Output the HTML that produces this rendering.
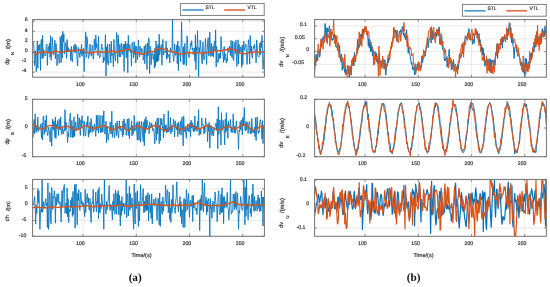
<!DOCTYPE html><html><head><meta charset="utf-8"><style>html,body{margin:0;padding:0;background:#fff;}svg{display:block;}text{text-rendering:geometricPrecision;font-family:"Liberation Sans",Arial,sans-serif;fill:#333;stroke:#333;stroke-width:0.18px;}</style></head><body>
<svg width="550" height="287" viewBox="0 0 550 287">
<rect width="550" height="287" fill="#fff"/>
<clipPath id="c00"><rect x="32.6" y="19.6" width="231.80" height="57.60"/></clipPath>
<line x1="83.07" y1="19.6" x2="83.07" y2="77.2" stroke="#e4e4e4" stroke-width="0.8"/>
<line x1="136.31" y1="19.6" x2="136.31" y2="77.2" stroke="#e4e4e4" stroke-width="0.8"/>
<line x1="189.55" y1="19.6" x2="189.55" y2="77.2" stroke="#e4e4e4" stroke-width="0.8"/>
<line x1="242.79" y1="19.6" x2="242.79" y2="77.2" stroke="#e4e4e4" stroke-width="0.8"/>
<line x1="32.6" y1="72.10" x2="264.4" y2="72.10" stroke="#e4e4e4" stroke-width="0.8"/>
<line x1="32.6" y1="61.91" x2="264.4" y2="61.91" stroke="#e4e4e4" stroke-width="0.8"/>
<line x1="32.6" y1="51.71" x2="264.4" y2="51.71" stroke="#e4e4e4" stroke-width="0.8"/>
<line x1="32.6" y1="41.52" x2="264.4" y2="41.52" stroke="#e4e4e4" stroke-width="0.8"/>
<line x1="32.6" y1="31.32" x2="264.4" y2="31.32" stroke="#e4e4e4" stroke-width="0.8"/>
<line x1="32.6" y1="21.13" x2="264.4" y2="21.13" stroke="#e4e4e4" stroke-width="0.8"/>
<g clip-path="url(#c00)">
<polyline points="33.0,44.0 33.6,42.8 34.1,49.4 34.6,65.5 35.2,60.5 35.7,50.8 36.2,71.6 36.8,62.8 37.3,41.0 37.8,68.3 38.3,45.1 38.9,50.8 39.4,49.3 39.9,44.0 40.5,70.4 41.0,41.3 41.5,39.2 42.1,58.6 42.6,35.4 43.1,58.2 43.7,49.5 44.2,53.7 44.7,55.2 45.3,56.1 45.8,52.4 46.3,45.4 46.9,43.9 47.4,65.4 47.9,49.2 48.5,46.5 49.0,52.3 49.5,43.1 50.1,57.3 50.6,35.6 51.1,60.3 51.7,52.8 52.2,37.6 52.7,44.4 53.3,55.0 53.8,54.6 54.3,47.2 54.9,40.2 55.4,58.7 55.9,43.4 56.5,47.3 57.0,65.7 57.5,54.7 58.0,54.2 58.6,54.1 59.1,63.4 59.6,61.3 60.2,36.7 60.7,49.8 61.2,62.6 61.8,34.9 62.3,58.1 62.8,31.4 63.4,41.7 63.9,34.2 64.4,53.8 65.0,50.7 65.5,42.7 66.0,42.8 66.6,58.4 67.1,39.5 67.6,51.5 68.2,47.4 68.7,51.1 69.2,52.0 69.8,49.4 70.3,49.9 70.8,60.5 71.4,46.4 71.9,59.2 72.4,61.7 73.0,52.6 73.5,46.6 74.0,45.4 74.6,52.3 75.1,43.9 75.6,52.4 76.1,45.4 76.7,53.0 77.2,61.5 77.7,65.8 78.3,47.3 78.8,52.9 79.3,53.0 79.9,57.5 80.4,49.3 80.9,53.7 81.5,44.4 82.0,56.3 82.5,50.1 83.1,54.3 83.6,48.4 84.1,71.6 84.7,54.0 85.2,45.2 85.7,31.9 86.3,57.4 86.8,36.5 87.3,39.3 87.9,49.4 88.4,58.5 88.9,56.5 89.5,54.1 90.0,44.0 90.5,50.9 91.1,55.1 91.6,56.3 92.1,45.1 92.7,46.1 93.2,59.4 93.7,57.0 94.3,39.1 94.8,47.6 95.3,50.3 95.8,34.9 96.4,47.6 96.9,43.7 97.4,55.0 98.0,55.5 98.5,36.2 99.0,53.8 99.6,57.7 100.1,57.3 100.6,55.2 101.2,48.6 101.7,43.9 102.2,49.0 102.8,47.8 103.3,62.7 103.8,57.0 104.4,60.5 104.9,58.4 105.4,34.6 106.0,76.1 106.5,46.8 107.0,63.3 107.6,44.0 108.1,64.9 108.6,64.8 109.2,52.2 109.7,44.0 110.2,52.2 110.8,62.8 111.3,41.3 111.8,55.7 112.4,53.4 112.9,55.3 113.4,66.7 113.9,39.4 114.5,52.8 115.0,57.9 115.5,60.9 116.1,46.8 116.6,32.5 117.1,38.4 117.7,63.4 118.2,34.9 118.7,46.4 119.3,56.9 119.8,44.2 120.3,57.0 120.9,53.3 121.4,43.2 121.9,51.9 122.5,54.8 123.0,46.0 123.5,44.1 124.1,71.4 124.6,43.9 125.1,49.9 125.7,41.3 126.2,57.9 126.7,46.3 127.3,43.5 127.8,72.7 128.3,35.4 128.9,51.2 129.4,46.6 129.9,44.6 130.5,52.5 131.0,50.6 131.5,66.2 132.0,42.7 132.6,42.6 133.1,52.2 133.6,58.0 134.2,41.8 134.7,54.3 135.2,46.1 135.8,63.0 136.3,46.4 136.8,47.0 137.4,59.7 137.9,51.2 138.4,39.9 139.0,53.2 139.5,57.1 140.0,46.1 140.6,49.4 141.1,53.6 141.6,48.5 142.2,48.8 142.7,50.2 143.2,60.2 143.8,57.4 144.3,46.0 144.8,63.7 145.4,45.9 145.9,44.3 146.4,52.6 147.0,69.7 147.5,43.1 148.0,55.7 148.6,37.8 149.1,39.8 149.6,73.5 150.2,46.3 150.7,47.4 151.2,64.7 151.7,53.3 152.3,52.7 152.8,55.6 153.3,59.5 153.9,54.3 154.4,68.2 154.9,48.3 155.5,66.2 156.0,40.9 156.5,62.0 157.1,46.5 157.6,61.5 158.1,44.3 158.7,60.5 159.2,34.2 159.7,55.1 160.3,50.1 160.8,48.1 161.3,44.6 161.9,65.2 162.4,48.5 162.9,39.4 163.5,55.0 164.0,52.6 164.5,51.1 165.1,52.7 165.6,50.5 166.1,41.3 166.7,59.4 167.2,48.0 167.7,57.7 168.3,56.2 168.8,54.3 169.3,54.8 169.8,62.8 170.4,47.8 170.9,50.2 171.4,51.8 172.0,49.3 172.5,19.5 173.0,54.1 173.6,61.4 174.1,57.6 174.6,43.8 175.2,53.0 175.7,55.5 176.2,53.0 176.8,45.0 177.3,63.7 177.8,41.0 178.4,70.5 178.9,46.3 179.4,48.5 180.0,50.8 180.5,61.6 181.0,48.6 181.6,21.8 182.1,47.0 182.6,50.6 183.2,64.5 183.7,46.7 184.2,64.5 184.8,43.4 185.3,54.1 185.8,55.4 186.4,65.7 186.9,35.8 187.4,37.8 187.9,52.8 188.5,55.2 189.0,57.6 189.5,51.1 190.1,49.5 190.6,43.1 191.1,45.8 191.7,40.7 192.2,49.7 192.7,48.0 193.3,54.4 193.8,52.4 194.3,48.0 194.9,61.2 195.4,34.9 195.9,69.8 196.5,46.8 197.0,50.5 197.5,30.8 198.1,52.2 198.6,76.6 199.1,47.7 199.7,52.7 200.2,40.1 200.7,46.2 201.3,52.6 201.8,61.4 202.3,63.8 202.9,42.0 203.4,53.0 203.9,60.1 204.5,59.4 205.0,47.8 205.5,38.4 206.1,52.8 206.6,64.4 207.1,51.9 207.6,43.0 208.2,37.6 208.7,56.1 209.2,54.0 209.8,32.0 210.3,52.5 210.8,56.6 211.4,43.1 211.9,56.1 212.4,55.8 213.0,45.8 213.5,57.1 214.0,45.8 214.6,41.2 215.1,50.8 215.6,29.9 216.2,66.9 216.7,46.4 217.2,58.6 217.8,62.5 218.3,61.6 218.8,53.2 219.4,58.7 219.9,53.5 220.4,58.3 221.0,36.6 221.5,45.7 222.0,50.4 222.6,52.3 223.1,55.9 223.6,62.4 224.2,46.4 224.7,60.1 225.2,54.1 225.7,53.8 226.3,62.8 226.8,58.4 227.3,61.0 227.9,47.7 228.4,50.0 228.9,52.2 229.5,46.3 230.0,49.4 230.5,55.8 231.1,40.4 231.6,54.4 232.1,57.8 232.7,41.0 233.2,60.0 233.7,60.5 234.3,42.5 234.8,43.7 235.3,53.8 235.9,40.2 236.4,56.2 236.9,66.5 237.5,51.0 238.0,39.8 238.5,64.2 239.1,44.4 239.6,52.2 240.1,52.0 240.7,46.8 241.2,48.4 241.7,67.3 242.3,45.0 242.8,64.6 243.3,48.0 243.8,41.2 244.4,50.4 244.9,47.7 245.4,45.9 246.0,44.1 246.5,52.6 247.0,64.4 247.6,55.2 248.1,45.6 248.6,39.7 249.2,50.4 249.7,64.2 250.2,35.4 250.8,52.7 251.3,45.9 251.8,55.1 252.4,58.2 252.9,50.3 253.4,46.3 254.0,48.3 254.5,44.1 255.0,50.0 255.6,52.4 256.1,62.7 256.6,39.9 257.2,44.7 257.7,55.5 258.2,56.3 258.8,57.2 259.3,56.6 259.8,43.2 260.4,54.8 260.9,41.9 261.4,47.5 262.0,35.4 262.5,50.9 263.0,69.3 263.5,62.5 264.1,52.8 264.6,40.5" fill="none" stroke="#0072BD" stroke-width="0.85" stroke-linejoin="round"/>
<polyline points="33.0,52.4 33.6,52.6 34.1,52.7 34.6,52.9 35.2,53.2 35.7,53.7 36.2,54.2 36.8,54.5 37.3,54.3 37.8,53.9 38.3,53.3 38.9,52.8 39.4,52.4 39.9,52.2 40.5,52.1 41.0,52.1 41.5,52.2 42.1,52.2 42.6,52.2 43.1,52.1 43.7,52.1 44.2,52.0 44.7,51.9 45.3,51.9 45.8,51.9 46.3,52.1 46.9,52.2 47.4,52.3 47.9,52.5 48.5,52.6 49.0,52.7 49.5,52.9 50.1,53.0 50.6,53.1 51.1,53.1 51.7,53.0 52.2,52.7 52.7,52.4 53.3,52.0 53.8,51.6 54.3,51.3 54.9,51.2 55.4,51.2 55.9,51.3 56.5,51.3 57.0,51.4 57.5,51.5 58.0,51.7 58.6,51.9 59.1,52.2 59.6,52.4 60.2,52.5 60.7,52.4 61.2,52.3 61.8,52.1 62.3,52.0 62.8,51.9 63.4,51.8 63.9,51.6 64.4,51.4 65.0,51.3 65.5,51.2 66.0,51.1 66.6,51.2 67.1,51.2 67.6,51.3 68.2,51.2 68.7,51.0 69.2,50.8 69.8,50.6 70.3,50.5 70.8,50.4 71.4,50.4 71.9,50.5 72.4,50.6 73.0,50.7 73.5,50.8 74.0,50.7 74.6,50.6 75.1,50.5 75.6,50.3 76.1,50.2 76.7,50.1 77.2,50.0 77.7,49.9 78.3,49.9 78.8,50.0 79.3,50.0 79.9,50.0 80.4,50.0 80.9,49.9 81.5,49.9 82.0,49.8 82.5,49.9 83.1,50.1 83.6,50.5 84.1,51.1 84.7,51.7 85.2,52.1 85.7,52.4 86.3,52.6 86.8,52.6 87.3,52.6 87.9,52.6 88.4,52.6 88.9,52.7 89.5,52.8 90.0,52.9 90.5,53.0 91.1,53.1 91.6,53.1 92.1,53.0 92.7,52.8 93.2,52.6 93.7,52.4 94.3,52.3 94.8,52.1 95.3,52.0 95.8,51.9 96.4,51.8 96.9,51.9 97.4,52.0 98.0,52.2 98.5,52.3 99.0,52.3 99.6,52.2 100.1,52.1 100.6,52.0 101.2,52.0 101.7,52.0 102.2,52.1 102.8,52.2 103.3,52.3 103.8,52.3 104.4,52.2 104.9,52.0 105.4,51.8 106.0,51.6 106.5,51.6 107.0,51.6 107.6,51.7 108.1,51.8 108.6,51.8 109.2,51.6 109.7,51.4 110.2,51.2 110.8,51.0 111.3,50.9 111.8,50.9 112.4,51.0 112.9,51.0 113.4,51.2 113.9,51.4 114.5,51.7 115.0,52.0 115.5,52.3 116.1,52.3 116.6,52.2 117.1,51.9 117.7,51.6 118.2,51.4 118.7,51.3 119.3,51.2 119.8,51.1 120.3,51.0 120.9,50.9 121.4,50.7 121.9,50.7 122.5,50.7 123.0,50.7 123.5,50.7 124.1,50.6 124.6,50.3 125.1,50.0 125.7,49.7 126.2,49.5 126.7,49.4 127.3,49.3 127.8,49.3 128.3,49.4 128.9,49.6 129.4,49.6 129.9,49.7 130.5,49.8 131.0,50.1 131.5,50.5 132.0,51.0 132.6,51.6 133.1,52.1 133.6,52.4 134.2,52.6 134.7,52.6 135.2,52.6 135.8,52.6 136.3,52.7 136.8,52.7 137.4,52.8 137.9,52.9 138.4,53.0 139.0,53.3 139.5,53.6 140.0,53.9 140.6,54.3 141.1,54.4 141.6,54.3 142.2,54.1 142.7,54.0 143.2,53.8 143.8,53.6 144.3,53.5 144.8,53.2 145.4,53.0 145.9,52.8 146.4,52.7 147.0,52.6 147.5,52.6 148.0,52.5 148.6,52.5 149.1,52.3 149.6,52.1 150.2,51.8 150.7,51.6 151.2,51.5 151.7,51.5 152.3,51.6 152.8,51.7 153.3,51.7 153.9,51.5 154.4,51.2 154.9,50.8 155.5,50.3 156.0,49.8 156.5,49.4 157.1,49.1 157.6,48.9 158.1,48.8 158.7,48.8 159.2,48.7 159.7,48.6 160.3,48.4 160.8,48.3 161.3,48.3 161.9,48.4 162.4,48.6 162.9,48.8 163.5,48.9 164.0,49.1 164.5,49.2 165.1,49.4 165.6,49.6 166.1,49.7 166.7,49.9 167.2,50.2 167.7,50.6 168.3,50.9 168.8,51.2 169.3,51.3 169.8,51.4 170.4,51.5 170.9,51.7 171.4,51.9 172.0,52.0 172.5,52.2 173.0,52.2 173.6,52.2 174.1,52.1 174.6,52.0 175.2,52.0 175.7,52.2 176.2,52.6 176.8,53.1 177.3,53.5 177.8,53.7 178.4,53.8 178.9,53.9 179.4,54.0 180.0,54.0 180.5,54.0 181.0,54.1 181.6,54.1 182.1,54.0 182.6,53.9 183.2,53.8 183.7,53.6 184.2,53.4 184.8,53.3 185.3,53.1 185.8,53.0 186.4,52.9 186.9,52.8 187.4,52.8 187.9,52.8 188.5,52.8 189.0,52.8 189.5,52.8 190.1,52.8 190.6,52.8 191.1,52.9 191.7,53.0 192.2,53.1 192.7,53.0 193.3,52.9 193.8,52.8 194.3,52.8 194.9,52.8 195.4,52.9 195.9,53.0 196.5,53.0 197.0,52.9 197.5,52.8 198.1,52.7 198.6,52.7 199.1,52.7 199.7,52.8 200.2,53.0 200.7,53.2 201.3,53.4 201.8,53.6 202.3,53.7 202.9,53.6 203.4,53.3 203.9,53.0 204.5,52.8 205.0,52.6 205.5,52.5 206.1,52.6 206.6,52.6 207.1,52.7 207.6,52.6 208.2,52.4 208.7,52.2 209.2,52.1 209.8,52.1 210.3,52.1 210.8,52.3 211.4,52.4 211.9,52.3 212.4,52.1 213.0,51.6 213.5,51.1 214.0,50.7 214.6,50.5 215.1,50.6 215.6,50.8 216.2,51.0 216.7,51.2 217.2,51.2 217.8,51.0 218.3,50.8 218.8,50.8 219.4,50.8 219.9,50.8 220.4,50.9 221.0,50.9 221.5,50.8 222.0,50.6 222.6,50.4 223.1,50.2 223.6,50.0 224.2,49.8 224.7,49.8 225.2,49.7 225.7,49.7 226.3,49.7 226.8,49.7 227.3,49.6 227.9,49.5 228.4,49.3 228.9,49.1 229.5,48.9 230.0,48.8 230.5,48.9 231.1,49.0 231.6,49.1 232.1,49.3 232.7,49.4 233.2,49.5 233.7,49.7 234.3,49.8 234.8,50.0 235.3,50.2 235.9,50.5 236.4,50.8 236.9,51.2 237.5,51.7 238.0,52.1 238.5,52.5 239.1,52.9 239.6,53.0 240.1,53.1 240.7,53.1 241.2,53.0 241.7,53.0 242.3,53.1 242.8,53.2 243.3,53.4 243.8,53.5 244.4,53.7 244.9,53.8 245.4,53.7 246.0,53.6 246.5,53.5 247.0,53.3 247.6,53.1 248.1,52.9 248.6,52.6 249.2,52.5 249.7,52.5 250.2,52.5 250.8,52.6 251.3,52.7 251.8,52.7 252.4,52.7 252.9,52.5 253.4,52.3 254.0,52.1 254.5,51.8 255.0,51.5 255.6,51.4 256.1,51.4 256.6,51.5 257.2,51.7 257.7,51.9 258.2,52.1 258.8,52.2 259.3,52.2 259.8,52.2 260.4,52.1 260.9,52.0 261.4,52.0 262.0,52.0 262.5,52.1 263.0,52.3 263.5,52.4 264.1,52.4 264.6,52.4" fill="none" stroke="#D95319" stroke-width="1.4" stroke-linejoin="round"/>
</g>
<rect x="32.6" y="19.6" width="231.80" height="57.60" fill="none" stroke="#727272" stroke-width="1"/>
<line x1="83.07" y1="77.2" x2="83.07" y2="74.9" stroke="#727272" stroke-width="0.8"/>
<line x1="83.07" y1="19.6" x2="83.07" y2="21.900000000000002" stroke="#727272" stroke-width="0.8"/>
<text x="80.37" y="85.80" font-size="5.2" text-anchor="middle">100</text>
<line x1="136.31" y1="77.2" x2="136.31" y2="74.9" stroke="#727272" stroke-width="0.8"/>
<line x1="136.31" y1="19.6" x2="136.31" y2="21.900000000000002" stroke="#727272" stroke-width="0.8"/>
<text x="133.61" y="85.80" font-size="5.2" text-anchor="middle">150</text>
<line x1="189.55" y1="77.2" x2="189.55" y2="74.9" stroke="#727272" stroke-width="0.8"/>
<line x1="189.55" y1="19.6" x2="189.55" y2="21.900000000000002" stroke="#727272" stroke-width="0.8"/>
<text x="186.85" y="85.80" font-size="5.2" text-anchor="middle">200</text>
<line x1="242.79" y1="77.2" x2="242.79" y2="74.9" stroke="#727272" stroke-width="0.8"/>
<line x1="242.79" y1="19.6" x2="242.79" y2="21.900000000000002" stroke="#727272" stroke-width="0.8"/>
<text x="240.09" y="85.80" font-size="5.2" text-anchor="middle">250</text>
<line x1="32.6" y1="72.10" x2="34.9" y2="72.10" stroke="#727272" stroke-width="0.8"/>
<line x1="264.4" y1="72.10" x2="262.09999999999997" y2="72.10" stroke="#727272" stroke-width="0.8"/>
<text x="26.30" y="72.40" font-size="5.2" text-anchor="end">-4</text>
<line x1="32.6" y1="61.91" x2="34.9" y2="61.91" stroke="#727272" stroke-width="0.8"/>
<line x1="264.4" y1="61.91" x2="262.09999999999997" y2="61.91" stroke="#727272" stroke-width="0.8"/>
<text x="26.30" y="62.21" font-size="5.2" text-anchor="end">-2</text>
<line x1="32.6" y1="51.71" x2="34.9" y2="51.71" stroke="#727272" stroke-width="0.8"/>
<line x1="264.4" y1="51.71" x2="262.09999999999997" y2="51.71" stroke="#727272" stroke-width="0.8"/>
<text x="27.60" y="52.01" font-size="5.2" text-anchor="end">0</text>
<line x1="32.6" y1="41.52" x2="34.9" y2="41.52" stroke="#727272" stroke-width="0.8"/>
<line x1="264.4" y1="41.52" x2="262.09999999999997" y2="41.52" stroke="#727272" stroke-width="0.8"/>
<text x="27.60" y="41.82" font-size="5.2" text-anchor="end">2</text>
<line x1="32.6" y1="31.32" x2="34.9" y2="31.32" stroke="#727272" stroke-width="0.8"/>
<line x1="264.4" y1="31.32" x2="262.09999999999997" y2="31.32" stroke="#727272" stroke-width="0.8"/>
<text x="27.60" y="31.62" font-size="5.2" text-anchor="end">4</text>
<line x1="32.6" y1="21.13" x2="34.9" y2="21.13" stroke="#727272" stroke-width="0.8"/>
<line x1="264.4" y1="21.13" x2="262.09999999999997" y2="21.13" stroke="#727272" stroke-width="0.8"/>
<text x="27.60" y="21.43" font-size="5.2" text-anchor="end">6</text>
<text transform="translate(8.90,51.80) rotate(-90)" font-size="5.8" text-anchor="middle">dp<tspan dx="3.3" dy="5.3" font-size="4.3">N</tspan><tspan dx="2.5" dy="-4.5">/(m)</tspan></text>
<clipPath id="c01"><rect x="32.6" y="99.3" width="231.80" height="57.40"/></clipPath>
<line x1="83.07" y1="99.3" x2="83.07" y2="156.7" stroke="#e4e4e4" stroke-width="0.8"/>
<line x1="136.31" y1="99.3" x2="136.31" y2="156.7" stroke="#e4e4e4" stroke-width="0.8"/>
<line x1="189.55" y1="99.3" x2="189.55" y2="156.7" stroke="#e4e4e4" stroke-width="0.8"/>
<line x1="242.79" y1="99.3" x2="242.79" y2="156.7" stroke="#e4e4e4" stroke-width="0.8"/>
<line x1="32.6" y1="156.70" x2="264.4" y2="156.70" stroke="#e4e4e4" stroke-width="0.8"/>
<line x1="32.6" y1="128.00" x2="264.4" y2="128.00" stroke="#e4e4e4" stroke-width="0.8"/>
<line x1="32.6" y1="99.30" x2="264.4" y2="99.30" stroke="#e4e4e4" stroke-width="0.8"/>
<g clip-path="url(#c01)">
<polyline points="33.0,137.5 33.6,131.0 34.1,119.5 34.6,133.5 35.2,113.8 35.7,128.9 36.2,132.5 36.8,125.3 37.3,130.3 37.8,117.1 38.3,131.6 38.9,130.2 39.4,128.4 39.9,127.6 40.5,124.3 41.0,129.4 41.5,138.3 42.1,123.1 42.6,139.9 43.1,117.3 43.7,116.0 44.2,134.4 44.7,129.7 45.3,120.2 45.8,131.7 46.3,115.3 46.9,129.9 47.4,135.5 47.9,135.6 48.5,127.4 49.0,130.3 49.5,131.0 50.1,142.0 50.6,131.2 51.1,127.1 51.7,146.0 52.2,129.8 52.7,119.2 53.3,130.0 53.8,121.2 54.3,121.1 54.9,137.5 55.4,117.0 55.9,138.5 56.5,124.5 57.0,128.1 57.5,120.7 58.0,126.9 58.6,135.5 59.1,119.1 59.6,128.7 60.2,130.0 60.7,116.8 61.2,132.2 61.8,134.5 62.3,126.8 62.8,132.2 63.4,134.0 63.9,129.6 64.4,131.2 65.0,109.7 65.5,130.3 66.0,122.0 66.6,125.5 67.1,133.7 67.6,142.5 68.2,132.5 68.7,136.9 69.2,121.3 69.8,118.5 70.3,113.3 70.8,137.4 71.4,129.0 71.9,120.4 72.4,137.9 73.0,126.1 73.5,136.7 74.0,116.9 74.6,136.5 75.1,128.1 75.6,121.9 76.1,127.7 76.7,130.7 77.2,126.5 77.7,114.2 78.3,129.1 78.8,124.8 79.3,117.8 79.9,130.7 80.4,135.5 80.9,119.7 81.5,127.6 82.0,115.7 82.5,122.3 83.1,124.5 83.6,136.2 84.1,120.9 84.7,127.2 85.2,135.3 85.7,136.1 86.3,128.2 86.8,122.2 87.3,125.9 87.9,116.0 88.4,137.2 88.9,129.8 89.5,133.4 90.0,122.1 90.5,132.1 91.1,118.5 91.6,122.0 92.1,132.5 92.7,125.9 93.2,129.6 93.7,130.8 94.3,123.8 94.8,126.1 95.3,131.6 95.8,136.3 96.4,115.4 96.9,130.7 97.4,121.9 98.0,115.0 98.5,133.1 99.0,128.7 99.6,122.1 100.1,115.4 100.6,132.8 101.2,128.2 101.7,132.1 102.2,115.5 102.8,132.2 103.3,123.3 103.8,110.8 104.4,131.6 104.9,134.1 105.4,131.1 106.0,121.2 106.5,142.7 107.0,126.0 107.6,132.7 108.1,140.3 108.6,136.9 109.2,132.5 109.7,128.5 110.2,121.9 110.8,133.6 111.3,134.1 111.8,111.2 112.4,137.4 112.9,130.3 113.4,125.2 113.9,131.5 114.5,137.8 115.0,133.8 115.5,123.6 116.1,123.6 116.6,135.5 117.1,121.0 117.7,129.8 118.2,135.3 118.7,137.6 119.3,120.8 119.8,128.9 120.3,126.1 120.9,131.0 121.4,129.9 121.9,128.6 122.5,136.8 123.0,121.0 123.5,134.8 124.1,118.8 124.6,129.2 125.1,123.5 125.7,123.9 126.2,135.4 126.7,130.3 127.3,119.0 127.8,125.4 128.3,135.6 128.9,118.4 129.4,138.7 129.9,128.8 130.5,127.7 131.0,129.6 131.5,120.9 132.0,136.0 132.6,125.7 133.1,134.1 133.6,131.3 134.2,115.4 134.7,131.1 135.2,128.6 135.8,129.6 136.3,122.6 136.8,132.7 137.4,140.2 137.9,121.5 138.4,127.2 139.0,140.4 139.5,121.6 140.0,128.0 140.6,142.2 141.1,130.5 141.6,121.3 142.2,127.2 142.7,136.5 143.2,141.4 143.8,121.9 144.3,145.8 144.8,119.3 145.4,132.8 145.9,116.8 146.4,128.9 147.0,120.2 147.5,124.4 148.0,126.7 148.6,126.1 149.1,133.9 149.6,121.8 150.2,124.4 150.7,127.7 151.2,127.6 151.7,122.9 152.3,126.8 152.8,130.8 153.3,128.6 153.9,130.7 154.4,137.4 154.9,143.9 155.5,121.7 156.0,126.9 156.5,140.2 157.1,118.3 157.6,133.8 158.1,122.8 158.7,117.8 159.2,143.7 159.7,125.4 160.3,140.6 160.8,118.3 161.3,124.9 161.9,119.1 162.4,128.1 162.9,126.9 163.5,138.0 164.0,114.0 164.5,132.0 165.1,125.3 165.6,129.9 166.1,124.8 166.7,133.0 167.2,128.3 167.7,131.9 168.3,110.8 168.8,132.1 169.3,127.6 169.8,130.1 170.4,117.4 170.9,134.0 171.4,125.7 172.0,131.9 172.5,127.4 173.0,125.0 173.6,119.2 174.1,125.0 174.6,137.0 175.2,120.8 175.7,127.5 176.2,126.6 176.8,129.9 177.3,123.0 177.8,136.7 178.4,122.1 178.9,126.8 179.4,134.0 180.0,126.1 180.5,120.9 181.0,135.2 181.6,121.5 182.1,117.0 182.6,129.7 183.2,146.0 183.7,116.2 184.2,129.6 184.8,131.8 185.3,126.5 185.8,134.4 186.4,138.2 186.9,128.1 187.4,131.0 187.9,123.9 188.5,129.0 189.0,132.1 189.5,127.7 190.1,122.7 190.6,136.7 191.1,120.1 191.7,127.8 192.2,122.4 192.7,127.2 193.3,131.5 193.8,124.8 194.3,131.5 194.9,116.0 195.4,128.8 195.9,130.2 196.5,126.0 197.0,131.4 197.5,121.1 198.1,127.5 198.6,109.7 199.1,135.4 199.7,127.9 200.2,128.8 200.7,134.4 201.3,126.3 201.8,117.8 202.3,125.3 202.9,125.3 203.4,124.9 203.9,134.1 204.5,126.4 205.0,132.4 205.5,117.9 206.1,124.0 206.6,123.8 207.1,125.3 207.6,141.6 208.2,124.1 208.7,131.3 209.2,122.4 209.8,148.2 210.3,134.2 210.8,125.2 211.4,127.1 211.9,135.6 212.4,133.7 213.0,128.2 213.5,136.1 214.0,129.5 214.6,130.0 215.1,126.1 215.6,124.0 216.2,123.0 216.7,130.5 217.2,118.9 217.8,148.7 218.3,106.7 218.8,134.6 219.4,125.9 219.9,119.8 220.4,125.8 221.0,145.1 221.5,112.7 222.0,130.6 222.6,127.7 223.1,120.3 223.6,127.0 224.2,131.0 224.7,144.8 225.2,119.3 225.7,132.5 226.3,112.6 226.8,130.7 227.3,124.2 227.9,138.3 228.4,120.9 228.9,126.3 229.5,127.1 230.0,124.9 230.5,119.5 231.1,132.0 231.6,126.8 232.1,132.9 232.7,130.9 233.2,113.9 233.7,129.7 234.3,132.9 234.8,126.0 235.3,133.4 235.9,126.8 236.4,120.9 236.9,130.0 237.5,131.1 238.0,135.4 238.5,149.3 239.1,130.2 239.6,131.7 240.1,121.8 240.7,130.1 241.2,120.1 241.7,122.2 242.3,134.8 242.8,117.5 243.3,125.9 243.8,119.0 244.4,107.5 244.9,129.4 245.4,131.1 246.0,121.3 246.5,129.9 247.0,122.9 247.6,122.4 248.1,133.4 248.6,125.7 249.2,122.2 249.7,121.6 250.2,133.6 250.8,128.5 251.3,133.8 251.8,118.5 252.4,129.2 252.9,132.5 253.4,130.6 254.0,133.1 254.5,127.1 255.0,136.8 255.6,117.6 256.1,140.6 256.6,124.8 257.2,117.0 257.7,128.7 258.2,133.4 258.8,131.2 259.3,132.0 259.8,121.6 260.4,119.7 260.9,122.4 261.4,127.4 262.0,139.1 262.5,120.5 263.0,143.7 263.5,125.5 264.1,126.5 264.6,130.6" fill="none" stroke="#0072BD" stroke-width="0.85" stroke-linejoin="round"/>
<polyline points="33.0,124.2 33.6,124.4 34.1,124.5 34.6,124.8 35.2,125.1 35.7,125.5 36.2,125.9 36.8,126.4 37.3,126.8 37.8,127.2 38.3,127.6 38.9,128.0 39.4,128.4 39.9,128.7 40.5,128.9 41.0,129.1 41.5,129.2 42.1,129.2 42.6,129.1 43.1,129.0 43.7,128.8 44.2,128.6 44.7,128.3 45.3,128.0 45.8,127.6 46.3,127.2 46.9,126.9 47.4,126.5 47.9,126.1 48.5,125.9 49.0,125.7 49.5,125.5 50.1,125.4 50.6,125.4 51.1,125.4 51.7,125.6 52.2,125.8 52.7,125.9 53.3,126.1 53.8,126.4 54.3,126.7 54.9,127.0 55.4,127.3 55.9,127.6 56.5,127.9 57.0,128.0 57.5,128.1 58.0,128.2 58.6,128.2 59.1,128.1 59.6,128.1 60.2,127.9 60.7,127.8 61.2,127.6 61.8,127.4 62.3,127.1 62.8,126.9 63.4,126.6 63.9,126.4 64.4,126.3 65.0,126.2 65.5,126.1 66.0,126.1 66.6,126.1 67.1,126.1 67.6,126.2 68.2,126.4 68.7,126.6 69.2,126.9 69.8,127.1 70.3,127.4 70.8,127.7 71.4,128.0 71.9,128.3 72.4,128.6 73.0,128.9 73.5,129.1 74.0,129.3 74.6,129.5 75.1,129.6 75.6,129.8 76.1,129.8 76.7,129.8 77.2,129.7 77.7,129.6 78.3,129.4 78.8,129.2 79.3,128.9 79.9,128.6 80.4,128.3 80.9,127.9 81.5,127.6 82.0,127.2 82.5,126.9 83.1,126.6 83.6,126.3 84.1,126.2 84.7,126.0 85.2,125.9 85.7,125.9 86.3,125.9 86.8,126.0 87.3,126.3 87.9,126.5 88.4,126.8 88.9,127.0 89.5,127.2 90.0,127.5 90.5,127.7 91.1,127.9 91.6,128.0 92.1,128.2 92.7,128.2 93.2,128.2 93.7,128.2 94.3,128.1 94.8,128.1 95.3,128.0 95.8,127.9 96.4,127.8 96.9,127.6 97.4,127.5 98.0,127.4 98.5,127.2 99.0,127.1 99.6,126.9 100.1,126.8 100.6,126.6 101.2,126.5 101.7,126.3 102.2,126.2 102.8,126.1 103.3,126.0 103.8,126.0 104.4,125.9 104.9,125.9 105.4,126.0 106.0,126.2 106.5,126.5 107.0,126.7 107.6,127.0 108.1,127.3 108.6,127.6 109.2,128.0 109.7,128.4 110.2,128.7 110.8,129.0 111.3,129.3 111.8,129.5 112.4,129.6 112.9,129.7 113.4,129.7 113.9,129.6 114.5,129.4 115.0,129.2 115.5,128.9 116.1,128.6 116.6,128.3 117.1,128.0 117.7,127.7 118.2,127.4 118.7,127.0 119.3,126.8 119.8,126.6 120.3,126.6 120.9,126.6 121.4,126.6 121.9,126.8 122.5,127.0 123.0,127.3 123.5,127.6 124.1,127.9 124.6,128.3 125.1,128.7 125.7,129.0 126.2,129.4 126.7,129.6 127.3,129.9 127.8,130.1 128.3,130.1 128.9,130.0 129.4,129.8 129.9,129.6 130.5,129.3 131.0,129.0 131.5,128.7 132.0,128.3 132.6,127.9 133.1,127.5 133.6,127.1 134.2,126.7 134.7,126.5 135.2,126.2 135.8,126.1 136.3,126.0 136.8,125.9 137.4,126.0 137.9,126.1 138.4,126.2 139.0,126.3 139.5,126.5 140.0,126.8 140.6,127.0 141.1,127.3 141.6,127.6 142.2,127.9 142.7,128.1 143.2,128.4 143.8,128.5 144.3,128.7 144.8,128.8 145.4,129.0 145.9,129.1 146.4,129.0 147.0,129.0 147.5,128.9 148.0,128.7 148.6,128.5 149.1,128.3 149.6,128.0 150.2,127.7 150.7,127.4 151.2,127.1 151.7,126.8 152.3,126.4 152.8,126.2 153.3,125.9 153.9,125.7 154.4,125.6 154.9,125.5 155.5,125.5 156.0,125.5 156.5,125.7 157.1,125.9 157.6,126.2 158.1,126.5 158.7,126.8 159.2,127.2 159.7,127.7 160.3,128.2 160.8,128.7 161.3,129.1 161.9,129.5 162.4,129.8 162.9,130.1 163.5,130.3 164.0,130.4 164.5,130.5 165.1,130.5 165.6,130.4 166.1,130.2 166.7,130.0 167.2,129.6 167.7,129.2 168.3,128.8 168.8,128.4 169.3,127.9 169.8,127.4 170.4,127.1 170.9,126.7 171.4,126.4 172.0,126.2 172.5,126.0 173.0,125.9 173.6,125.9 174.1,126.0 174.6,126.2 175.2,126.5 175.7,126.8 176.2,127.1 176.8,127.5 177.3,127.8 177.8,128.2 178.4,128.5 178.9,128.8 179.4,129.1 180.0,129.2 180.5,129.3 181.0,129.4 181.6,129.4 182.1,129.3 182.6,129.1 183.2,128.9 183.7,128.6 184.2,128.4 184.8,128.1 185.3,127.7 185.8,127.2 186.4,126.8 186.9,126.5 187.4,126.2 187.9,125.9 188.5,125.7 189.0,125.5 189.5,125.4 190.1,125.3 190.6,125.3 191.1,125.4 191.7,125.5 192.2,125.9 192.7,126.1 193.3,126.5 193.8,126.8 194.3,127.1 194.9,127.4 195.4,127.8 195.9,128.1 196.5,128.4 197.0,128.6 197.5,128.7 198.1,128.8 198.6,128.9 199.1,128.9 199.7,128.8 200.2,128.6 200.7,128.4 201.3,128.2 201.8,127.9 202.3,127.7 202.9,127.4 203.4,127.1 203.9,126.8 204.5,126.5 205.0,126.4 205.5,126.1 206.1,126.0 206.6,125.9 207.1,125.9 207.6,125.9 208.2,125.9 208.7,125.9 209.2,126.0 209.8,126.2 210.3,126.4 210.8,126.6 211.4,126.8 211.9,127.1 212.4,127.4 213.0,127.7 213.5,128.0 214.0,128.3 214.6,128.6 215.1,128.9 215.6,129.1 216.2,129.4 216.7,129.6 217.2,129.8 217.8,130.0 218.3,130.0 218.8,130.0 219.4,129.9 219.9,129.8 220.4,129.6 221.0,129.4 221.5,129.0 222.0,128.7 222.6,128.4 223.1,128.0 223.6,127.7 224.2,127.3 224.7,127.1 225.2,126.8 225.7,126.5 226.3,126.3 226.8,126.3 227.3,126.2 227.9,126.3 228.4,126.5 228.9,126.6 229.5,126.8 230.0,127.0 230.5,127.2 231.1,127.5 231.6,127.8 232.1,128.1 232.7,128.3 233.2,128.4 233.7,128.5 234.3,128.7 234.8,128.7 235.3,128.6 235.9,128.5 236.4,128.3 236.9,128.2 237.5,127.9 238.0,127.6 238.5,127.2 239.1,126.9 239.6,126.5 240.1,126.2 240.7,125.8 241.2,125.5 241.7,125.2 242.3,124.9 242.8,124.8 243.3,124.7 243.8,124.7 244.4,124.7 244.9,124.9 245.4,125.0 246.0,125.2 246.5,125.5 247.0,125.9 247.6,126.3 248.1,126.8 248.6,127.2 249.2,127.7 249.7,128.1 250.2,128.5 250.8,128.9 251.3,129.3 251.8,129.6 252.4,129.9 252.9,130.0 253.4,130.0 254.0,130.0 254.5,129.8 255.0,129.7 255.6,129.5 256.1,129.2 256.6,128.9 257.2,128.5 257.7,128.1 258.2,127.7 258.8,127.4 259.3,127.1 259.8,126.9 260.4,126.7 260.9,126.5 261.4,126.4 262.0,126.3 262.5,126.3 263.0,126.3 263.5,126.4 264.1,126.4 264.6,126.5" fill="none" stroke="#D95319" stroke-width="1.4" stroke-linejoin="round"/>
</g>
<rect x="32.6" y="99.3" width="231.80" height="57.40" fill="none" stroke="#727272" stroke-width="1"/>
<line x1="83.07" y1="156.7" x2="83.07" y2="154.39999999999998" stroke="#727272" stroke-width="0.8"/>
<line x1="83.07" y1="99.3" x2="83.07" y2="101.6" stroke="#727272" stroke-width="0.8"/>
<text x="80.37" y="165.30" font-size="5.2" text-anchor="middle">100</text>
<line x1="136.31" y1="156.7" x2="136.31" y2="154.39999999999998" stroke="#727272" stroke-width="0.8"/>
<line x1="136.31" y1="99.3" x2="136.31" y2="101.6" stroke="#727272" stroke-width="0.8"/>
<text x="133.61" y="165.30" font-size="5.2" text-anchor="middle">150</text>
<line x1="189.55" y1="156.7" x2="189.55" y2="154.39999999999998" stroke="#727272" stroke-width="0.8"/>
<line x1="189.55" y1="99.3" x2="189.55" y2="101.6" stroke="#727272" stroke-width="0.8"/>
<text x="186.85" y="165.30" font-size="5.2" text-anchor="middle">200</text>
<line x1="242.79" y1="156.7" x2="242.79" y2="154.39999999999998" stroke="#727272" stroke-width="0.8"/>
<line x1="242.79" y1="99.3" x2="242.79" y2="101.6" stroke="#727272" stroke-width="0.8"/>
<text x="240.09" y="165.30" font-size="5.2" text-anchor="middle">250</text>
<line x1="32.6" y1="156.70" x2="34.9" y2="156.70" stroke="#727272" stroke-width="0.8"/>
<line x1="264.4" y1="156.70" x2="262.09999999999997" y2="156.70" stroke="#727272" stroke-width="0.8"/>
<text x="26.30" y="157.00" font-size="5.2" text-anchor="end">-5</text>
<line x1="32.6" y1="128.00" x2="34.9" y2="128.00" stroke="#727272" stroke-width="0.8"/>
<line x1="264.4" y1="128.00" x2="262.09999999999997" y2="128.00" stroke="#727272" stroke-width="0.8"/>
<text x="27.60" y="128.30" font-size="5.2" text-anchor="end">0</text>
<line x1="32.6" y1="99.30" x2="34.9" y2="99.30" stroke="#727272" stroke-width="0.8"/>
<line x1="264.4" y1="99.30" x2="262.09999999999997" y2="99.30" stroke="#727272" stroke-width="0.8"/>
<text x="27.60" y="99.60" font-size="5.2" text-anchor="end">5</text>
<text transform="translate(8.90,131.90) rotate(-90)" font-size="5.8" text-anchor="middle">dp<tspan dx="3.3" dy="5.3" font-size="4.3">E</tspan><tspan dx="2.5" dy="-4.5">/(m)</tspan></text>
<clipPath id="c02"><rect x="32.6" y="179.4" width="231.80" height="56.90"/></clipPath>
<line x1="83.07" y1="179.4" x2="83.07" y2="236.3" stroke="#e4e4e4" stroke-width="0.8"/>
<line x1="136.31" y1="179.4" x2="136.31" y2="236.3" stroke="#e4e4e4" stroke-width="0.8"/>
<line x1="189.55" y1="179.4" x2="189.55" y2="236.3" stroke="#e4e4e4" stroke-width="0.8"/>
<line x1="242.79" y1="179.4" x2="242.79" y2="236.3" stroke="#e4e4e4" stroke-width="0.8"/>
<line x1="32.6" y1="236.30" x2="264.4" y2="236.30" stroke="#e4e4e4" stroke-width="0.8"/>
<line x1="32.6" y1="220.49" x2="264.4" y2="220.49" stroke="#e4e4e4" stroke-width="0.8"/>
<line x1="32.6" y1="204.69" x2="264.4" y2="204.69" stroke="#e4e4e4" stroke-width="0.8"/>
<line x1="32.6" y1="188.88" x2="264.4" y2="188.88" stroke="#e4e4e4" stroke-width="0.8"/>
<g clip-path="url(#c02)">
<polyline points="33.0,205.0 33.6,204.1 34.1,200.5 34.6,196.4 35.2,209.1 35.7,224.1 36.2,205.2 36.8,213.6 37.3,201.2 37.8,188.6 38.3,203.2 38.9,190.7 39.4,207.9 39.9,229.3 40.5,212.4 41.0,208.8 41.5,212.2 42.1,177.3 42.6,212.3 43.1,206.5 43.7,201.6 44.2,207.9 44.7,207.6 45.3,202.5 45.8,198.6 46.3,205.0 46.9,203.4 47.4,227.5 47.9,183.0 48.5,229.4 49.0,222.3 49.5,192.5 50.1,193.5 50.6,219.0 51.1,224.0 51.7,187.5 52.2,196.3 52.7,209.6 53.3,196.5 53.8,197.9 54.3,190.7 54.9,195.6 55.4,223.2 55.9,197.1 56.5,205.3 57.0,193.8 57.5,196.7 58.0,202.6 58.6,193.9 59.1,204.2 59.6,202.2 60.2,201.7 60.7,210.0 61.2,222.1 61.8,190.8 62.3,190.3 62.8,206.6 63.4,190.2 63.9,186.3 64.4,184.5 65.0,213.3 65.5,210.2 66.0,202.9 66.6,213.7 67.1,187.9 67.6,216.9 68.2,198.8 68.7,222.6 69.2,209.0 69.8,211.6 70.3,211.5 70.8,199.9 71.4,207.4 71.9,197.4 72.4,216.5 73.0,191.4 73.5,214.5 74.0,205.2 74.6,184.6 75.1,228.2 75.6,187.2 76.1,184.0 76.7,204.8 77.2,224.8 77.7,193.1 78.3,200.8 78.8,189.7 79.3,205.4 79.9,210.5 80.4,197.2 80.9,192.1 81.5,204.1 82.0,201.2 82.5,205.8 83.1,202.9 83.6,206.6 84.1,211.0 84.7,216.7 85.2,189.4 85.7,212.6 86.3,199.0 86.8,196.5 87.3,193.5 87.9,203.2 88.4,197.7 88.9,208.8 89.5,210.3 90.0,198.4 90.5,212.1 91.1,222.5 91.6,205.0 92.1,202.1 92.7,203.4 93.2,189.4 93.7,212.2 94.3,206.1 94.8,207.5 95.3,202.1 95.8,192.1 96.4,212.1 96.9,201.7 97.4,203.2 98.0,190.1 98.5,218.6 99.0,187.5 99.6,212.4 100.1,213.2 100.6,203.7 101.2,208.7 101.7,194.0 102.2,201.0 102.8,205.8 103.3,205.5 103.8,229.3 104.4,180.0 104.9,206.5 105.4,208.6 106.0,213.9 106.5,201.5 107.0,209.9 107.6,207.1 108.1,200.2 108.6,197.0 109.2,185.2 109.7,208.1 110.2,210.5 110.8,204.4 111.3,205.7 111.8,210.2 112.4,219.7 112.9,200.9 113.4,210.8 113.9,193.7 114.5,205.2 115.0,214.4 115.5,189.9 116.1,201.3 116.6,213.8 117.1,193.0 117.7,205.2 118.2,190.5 118.7,215.0 119.3,195.0 119.8,208.9 120.3,226.0 120.9,200.8 121.4,215.3 121.9,196.6 122.5,210.8 123.0,203.0 123.5,207.0 124.1,203.3 124.6,214.1 125.1,204.2 125.7,204.2 126.2,180.0 126.7,217.7 127.3,194.2 127.8,193.5 128.3,215.9 128.9,204.7 129.4,186.3 129.9,210.3 130.5,193.6 131.0,208.0 131.5,204.2 132.0,198.0 132.6,208.2 133.1,216.4 133.6,229.1 134.2,184.0 134.7,215.9 135.2,224.0 135.8,192.6 136.3,208.6 136.8,206.6 137.4,190.7 137.9,209.1 138.4,226.4 139.0,201.3 139.5,220.8 140.0,202.3 140.6,184.7 141.1,202.9 141.6,205.0 142.2,201.6 142.7,196.3 143.2,188.6 143.8,212.7 144.3,201.0 144.8,212.1 145.4,209.4 145.9,195.9 146.4,210.7 147.0,194.7 147.5,210.2 148.0,192.7 148.6,220.9 149.1,203.0 149.6,194.9 150.2,212.5 150.7,205.7 151.2,218.6 151.7,193.9 152.3,223.9 152.8,203.8 153.3,204.6 153.9,199.2 154.4,206.3 154.9,205.8 155.5,197.7 156.0,199.9 156.5,212.5 157.1,220.3 157.6,203.4 158.1,198.2 158.7,204.4 159.2,224.8 159.7,192.9 160.3,226.4 160.8,204.8 161.3,201.5 161.9,213.8 162.4,214.4 162.9,197.0 163.5,211.3 164.0,203.4 164.5,202.2 165.1,201.9 165.6,185.2 166.1,200.8 166.7,205.7 167.2,190.6 167.7,189.7 168.3,212.7 168.8,203.1 169.3,192.1 169.8,219.6 170.4,207.7 170.9,222.5 171.4,199.4 172.0,212.7 172.5,203.0 173.0,185.0 173.6,206.3 174.1,208.0 174.6,208.0 175.2,213.4 175.7,200.5 176.2,197.6 176.8,181.8 177.3,202.0 177.8,203.2 178.4,211.8 178.9,204.2 179.4,205.2 180.0,196.5 180.5,216.5 181.0,201.6 181.6,223.7 182.1,209.5 182.6,212.5 183.2,227.5 183.7,200.2 184.2,198.3 184.8,227.4 185.3,199.7 185.8,211.7 186.4,189.7 186.9,195.9 187.4,209.7 187.9,205.2 188.5,193.5 189.0,205.8 189.5,217.2 190.1,201.4 190.6,200.3 191.1,206.7 191.7,205.7 192.2,195.7 192.7,221.6 193.3,195.1 193.8,208.0 194.3,202.7 194.9,203.9 195.4,210.3 195.9,209.2 196.5,208.1 197.0,214.6 197.5,201.1 198.1,200.8 198.6,201.3 199.1,200.3 199.7,230.5 200.2,198.8 200.7,210.6 201.3,195.3 201.8,209.8 202.3,177.7 202.9,194.3 203.4,212.0 203.9,197.1 204.5,182.9 205.0,204.8 205.5,203.8 206.1,197.2 206.6,214.7 207.1,200.6 207.6,211.8 208.2,198.4 208.7,199.9 209.2,205.7 209.8,236.1 210.3,198.6 210.8,208.6 211.4,206.8 211.9,218.3 212.4,208.9 213.0,201.1 213.5,206.4 214.0,212.2 214.6,201.4 215.1,191.9 215.6,200.3 216.2,205.9 216.7,206.0 217.2,221.7 217.8,203.4 218.3,193.9 218.8,190.8 219.4,214.1 219.9,214.7 220.4,212.8 221.0,194.2 221.5,212.8 222.0,187.8 222.6,212.2 223.1,196.9 223.6,223.7 224.2,196.4 224.7,207.7 225.2,201.3 225.7,203.1 226.3,207.4 226.8,198.5 227.3,192.4 227.9,208.7 228.4,209.8 228.9,219.8 229.5,206.5 230.0,202.3 230.5,178.4 231.1,212.6 231.6,214.1 232.1,210.8 232.7,211.7 233.2,194.1 233.7,195.9 234.3,209.7 234.8,193.8 235.3,207.3 235.9,191.5 236.4,209.6 236.9,204.6 237.5,193.1 238.0,207.8 238.5,229.3 239.1,210.6 239.6,213.2 240.1,204.4 240.7,196.4 241.2,201.2 241.7,207.4 242.3,210.2 242.8,210.2 243.3,198.0 243.8,179.5 244.4,193.3 244.9,224.8 245.4,187.3 246.0,216.2 246.5,178.6 247.0,209.2 247.6,203.7 248.1,219.7 248.6,200.2 249.2,195.4 249.7,199.0 250.2,213.4 250.8,208.6 251.3,216.7 251.8,193.8 252.4,206.4 252.9,184.0 253.4,201.1 254.0,211.4 254.5,196.4 255.0,210.9 255.6,208.1 256.1,200.5 256.6,205.7 257.2,211.1 257.7,196.6 258.2,194.9 258.8,208.7 259.3,198.0 259.8,211.7 260.4,206.1 260.9,211.0 261.4,190.9 262.0,206.6 262.5,197.2 263.0,226.0 263.5,197.0 264.1,200.8 264.6,213.9" fill="none" stroke="#0072BD" stroke-width="0.85" stroke-linejoin="round"/>
<polyline points="33.0,207.7 33.6,207.6 34.1,207.5 34.6,207.4 35.2,207.3 35.7,207.3 36.2,207.2 36.8,207.2 37.3,207.3 37.8,207.3 38.3,207.3 38.9,207.3 39.4,207.4 39.9,207.5 40.5,207.7 41.0,207.8 41.5,207.9 42.1,207.9 42.6,207.9 43.1,207.8 43.7,207.8 44.2,207.7 44.7,207.7 45.3,207.8 45.8,207.8 46.3,207.9 46.9,207.9 47.4,207.8 47.9,207.7 48.5,207.6 49.0,207.4 49.5,207.2 50.1,207.0 50.6,206.8 51.1,206.7 51.7,206.7 52.2,206.7 52.7,206.8 53.3,206.8 53.8,206.9 54.3,207.0 54.9,207.1 55.4,207.2 55.9,207.3 56.5,207.4 57.0,207.4 57.5,207.5 58.0,207.4 58.6,207.3 59.1,207.2 59.6,207.1 60.2,207.0 60.7,207.0 61.2,207.0 61.8,207.0 62.3,207.0 62.8,206.9 63.4,206.9 63.9,206.8 64.4,206.8 65.0,206.7 65.5,206.7 66.0,206.7 66.6,206.6 67.1,206.6 67.6,206.6 68.2,206.6 68.7,206.6 69.2,206.7 69.8,206.7 70.3,206.8 70.8,206.9 71.4,207.0 71.9,207.0 72.4,207.0 73.0,207.0 73.5,206.9 74.0,206.9 74.6,206.7 75.1,206.6 75.6,206.5 76.1,206.4 76.7,206.4 77.2,206.4 77.7,206.5 78.3,206.5 78.8,206.5 79.3,206.5 79.9,206.5 80.4,206.5 80.9,206.5 81.5,206.4 82.0,206.4 82.5,206.3 83.1,206.1 83.6,206.0 84.1,205.9 84.7,205.8 85.2,205.8 85.7,205.7 86.3,205.7 86.8,205.7 87.3,205.7 87.9,205.7 88.4,205.8 88.9,206.0 89.5,206.2 90.0,206.4 90.5,206.5 91.1,206.6 91.6,206.7 92.1,206.7 92.7,206.6 93.2,206.6 93.7,206.6 94.3,206.5 94.8,206.5 95.3,206.4 95.8,206.4 96.4,206.3 96.9,206.3 97.4,206.3 98.0,206.3 98.5,206.3 99.0,206.2 99.6,206.2 100.1,206.1 100.6,206.0 101.2,205.9 101.7,205.8 102.2,205.8 102.8,205.8 103.3,205.8 103.8,205.9 104.4,206.0 104.9,206.0 105.4,206.0 106.0,206.0 106.5,205.9 107.0,205.8 107.6,205.7 108.1,205.7 108.6,205.6 109.2,205.6 109.7,205.6 110.2,205.6 110.8,205.6 111.3,205.7 111.8,205.7 112.4,205.8 112.9,205.9 113.4,206.0 113.9,206.1 114.5,206.2 115.0,206.2 115.5,206.2 116.1,206.1 116.6,205.9 117.1,205.7 117.7,205.5 118.2,205.3 118.7,205.1 119.3,204.8 119.8,204.7 120.3,204.6 120.9,204.7 121.4,204.9 121.9,205.1 122.5,205.4 123.0,205.7 123.5,205.9 124.1,206.0 124.6,206.0 125.1,206.0 125.7,205.9 126.2,205.9 126.7,205.9 127.3,206.0 127.8,206.1 128.3,206.2 128.9,206.3 129.4,206.3 129.9,206.3 130.5,206.2 131.0,206.0 131.5,205.8 132.0,205.5 132.6,205.3 133.1,205.1 133.6,205.1 134.2,205.1 134.7,205.1 135.2,205.2 135.8,205.2 136.3,205.2 136.8,205.2 137.4,205.1 137.9,205.1 138.4,205.1 139.0,205.1 139.5,205.1 140.0,205.2 140.6,205.3 141.1,205.3 141.6,205.4 142.2,205.4 142.7,205.3 143.2,205.1 143.8,204.9 144.3,204.7 144.8,204.6 145.4,204.4 145.9,204.4 146.4,204.3 147.0,204.2 147.5,204.2 148.0,204.2 148.6,204.2 149.1,204.2 149.6,204.2 150.2,204.3 150.7,204.4 151.2,204.5 151.7,204.5 152.3,204.5 152.8,204.4 153.3,204.4 153.9,204.4 154.4,204.4 154.9,204.4 155.5,204.4 156.0,204.5 156.5,204.5 157.1,204.6 157.6,204.7 158.1,204.9 158.7,205.0 159.2,205.1 159.7,205.3 160.3,205.3 160.8,205.4 161.3,205.4 161.9,205.4 162.4,205.4 162.9,205.3 163.5,205.3 164.0,205.3 164.5,205.3 165.1,205.3 165.6,205.4 166.1,205.5 166.7,205.5 167.2,205.6 167.7,205.6 168.3,205.5 168.8,205.4 169.3,205.3 169.8,205.1 170.4,205.1 170.9,205.0 171.4,205.0 172.0,205.0 172.5,205.1 173.0,205.1 173.6,205.1 174.1,205.1 174.6,205.1 175.2,205.2 175.7,205.3 176.2,205.5 176.8,205.6 177.3,205.7 177.8,205.7 178.4,205.7 178.9,205.6 179.4,205.5 180.0,205.3 180.5,205.2 181.0,205.2 181.6,205.1 182.1,205.1 182.6,205.1 183.2,205.1 183.7,205.1 184.2,205.1 184.8,205.0 185.3,204.9 185.8,204.8 186.4,204.7 186.9,204.7 187.4,204.7 187.9,204.8 188.5,204.9 189.0,205.0 189.5,205.1 190.1,205.1 190.6,205.0 191.1,204.9 191.7,204.8 192.2,204.7 192.7,204.5 193.3,204.4 193.8,204.1 194.3,203.9 194.9,203.7 195.4,203.4 195.9,203.2 196.5,203.1 197.0,203.1 197.5,203.1 198.1,203.1 198.6,203.0 199.1,203.0 199.7,202.9 200.2,202.9 200.7,203.0 201.3,203.3 201.8,203.6 202.3,204.0 202.9,204.3 203.4,204.7 203.9,204.9 204.5,205.1 205.0,205.2 205.5,205.3 206.1,205.3 206.6,205.3 207.1,205.4 207.6,205.4 208.2,205.5 208.7,205.6 209.2,205.6 209.8,205.6 210.3,205.6 210.8,205.5 211.4,205.5 211.9,205.4 212.4,205.4 213.0,205.5 213.5,205.5 214.0,205.6 214.6,205.6 215.1,205.6 215.6,205.6 216.2,205.6 216.7,205.6 217.2,205.5 217.8,205.5 218.3,205.5 218.8,205.5 219.4,205.5 219.9,205.5 220.4,205.4 221.0,205.3 221.5,205.2 222.0,205.1 222.6,205.0 223.1,205.0 223.6,204.9 224.2,204.8 224.7,204.6 225.2,204.4 225.7,204.2 226.3,203.9 226.8,203.7 227.3,203.6 227.9,203.5 228.4,203.4 228.9,203.4 229.5,203.3 230.0,203.1 230.5,202.8 231.1,202.6 231.6,202.4 232.1,202.3 232.7,202.3 233.2,202.3 233.7,202.4 234.3,202.7 234.8,203.0 235.3,203.2 235.9,203.4 236.4,203.6 236.9,203.7 237.5,203.9 238.0,204.1 238.5,204.3 239.1,204.5 239.6,204.7 240.1,204.8 240.7,204.9 241.2,204.9 241.7,204.9 242.3,204.8 242.8,204.6 243.3,204.5 243.8,204.4 244.4,204.5 244.9,204.7 245.4,205.0 246.0,205.3 246.5,205.5 247.0,205.7 247.6,205.7 248.1,205.6 248.6,205.4 249.2,205.2 249.7,205.0 250.2,204.9 250.8,204.8 251.3,204.8 251.8,204.8 252.4,204.9 252.9,204.9 253.4,205.0 254.0,204.9 254.5,204.8 255.0,204.8 255.6,204.7 256.1,204.7 256.6,204.8 257.2,204.9 257.7,205.0 258.2,205.1 258.8,205.1 259.3,205.1 259.8,205.1 260.4,205.0 260.9,204.9 261.4,204.8 262.0,204.7 262.5,204.6 263.0,204.4 263.5,204.3 264.1,204.2 264.6,204.1" fill="none" stroke="#D95319" stroke-width="1.4" stroke-linejoin="round"/>
</g>
<rect x="32.6" y="179.4" width="231.80" height="56.90" fill="none" stroke="#727272" stroke-width="1"/>
<line x1="83.07" y1="236.3" x2="83.07" y2="234.0" stroke="#727272" stroke-width="0.8"/>
<line x1="83.07" y1="179.4" x2="83.07" y2="181.70000000000002" stroke="#727272" stroke-width="0.8"/>
<text x="80.37" y="245.00" font-size="5.2" text-anchor="middle">100</text>
<line x1="136.31" y1="236.3" x2="136.31" y2="234.0" stroke="#727272" stroke-width="0.8"/>
<line x1="136.31" y1="179.4" x2="136.31" y2="181.70000000000002" stroke="#727272" stroke-width="0.8"/>
<text x="133.61" y="245.00" font-size="5.2" text-anchor="middle">150</text>
<line x1="189.55" y1="236.3" x2="189.55" y2="234.0" stroke="#727272" stroke-width="0.8"/>
<line x1="189.55" y1="179.4" x2="189.55" y2="181.70000000000002" stroke="#727272" stroke-width="0.8"/>
<text x="186.85" y="245.00" font-size="5.2" text-anchor="middle">200</text>
<line x1="242.79" y1="236.3" x2="242.79" y2="234.0" stroke="#727272" stroke-width="0.8"/>
<line x1="242.79" y1="179.4" x2="242.79" y2="181.70000000000002" stroke="#727272" stroke-width="0.8"/>
<text x="240.09" y="245.00" font-size="5.2" text-anchor="middle">250</text>
<line x1="32.6" y1="236.30" x2="34.9" y2="236.30" stroke="#727272" stroke-width="0.8"/>
<line x1="264.4" y1="236.30" x2="262.09999999999997" y2="236.30" stroke="#727272" stroke-width="0.8"/>
<text x="26.30" y="236.60" font-size="5.2" text-anchor="end">-10</text>
<line x1="32.6" y1="220.49" x2="34.9" y2="220.49" stroke="#727272" stroke-width="0.8"/>
<line x1="264.4" y1="220.49" x2="262.09999999999997" y2="220.49" stroke="#727272" stroke-width="0.8"/>
<text x="26.30" y="220.79" font-size="5.2" text-anchor="end">-5</text>
<line x1="32.6" y1="204.69" x2="34.9" y2="204.69" stroke="#727272" stroke-width="0.8"/>
<line x1="264.4" y1="204.69" x2="262.09999999999997" y2="204.69" stroke="#727272" stroke-width="0.8"/>
<text x="27.60" y="204.99" font-size="5.2" text-anchor="end">0</text>
<line x1="32.6" y1="188.88" x2="34.9" y2="188.88" stroke="#727272" stroke-width="0.8"/>
<line x1="264.4" y1="188.88" x2="262.09999999999997" y2="188.88" stroke="#727272" stroke-width="0.8"/>
<text x="27.60" y="189.18" font-size="5.2" text-anchor="end">5</text>
<text transform="translate(8.90,211.25) rotate(-90)" font-size="5.6" text-anchor="middle">dh<tspan dx="4.3" dy="0.8">/(m)</tspan></text>
<text x="131.40" y="256.9" font-size="5.55">Time/(s)</text>
<text x="135.15" y="280.5" font-size="11.2" font-weight="bold" text-anchor="middle" style="font-family:'Liberation Serif',serif;fill:#111;stroke:none">(a)</text>
<rect x="180.4" y="3.60" width="83.80" height="11.8" fill="#fff" stroke="#727272" stroke-width="0.9"/>
<line x1="182.4" y1="10.00" x2="203.6" y2="10.00" stroke="#0072BD" stroke-opacity="0.7" stroke-width="1.7"/>
<text x="205.6" y="9.30" font-size="4.9">STL</text>
<line x1="224.2" y1="10.00" x2="245.0" y2="10.00" stroke="#D95319" stroke-opacity="0.8" stroke-width="1.7"/>
<text x="247.4" y="9.30" font-size="4.9">VTL</text>
<clipPath id="c10"><rect x="314.6" y="19.6" width="231.80" height="57.60"/></clipPath>
<line x1="365.07" y1="19.6" x2="365.07" y2="77.2" stroke="#e4e4e4" stroke-width="0.8"/>
<line x1="418.31" y1="19.6" x2="418.31" y2="77.2" stroke="#e4e4e4" stroke-width="0.8"/>
<line x1="471.55" y1="19.6" x2="471.55" y2="77.2" stroke="#e4e4e4" stroke-width="0.8"/>
<line x1="524.79" y1="19.6" x2="524.79" y2="77.2" stroke="#e4e4e4" stroke-width="0.8"/>
<line x1="314.6" y1="64.40" x2="546.4" y2="64.40" stroke="#e4e4e4" stroke-width="0.8"/>
<line x1="314.6" y1="51.60" x2="546.4" y2="51.60" stroke="#e4e4e4" stroke-width="0.8"/>
<line x1="314.6" y1="38.80" x2="546.4" y2="38.80" stroke="#e4e4e4" stroke-width="0.8"/>
<line x1="314.6" y1="26.00" x2="546.4" y2="26.00" stroke="#e4e4e4" stroke-width="0.8"/>
<g clip-path="url(#c10)">
<polyline points="314.5,71.6 315.0,62.1 315.6,65.4 316.1,54.3 316.6,61.2 317.2,54.9 317.7,60.6 318.2,50.4 318.8,49.4 319.3,51.8 319.8,56.5 320.3,52.4 320.9,43.6 321.4,47.2 321.9,38.8 322.5,40.6 323.0,37.2 323.5,39.0 324.1,35.9 324.6,38.0 325.1,23.5 325.7,32.9 326.2,27.6 326.7,41.6 327.3,32.5 327.8,28.1 328.3,31.7 328.9,31.2 329.4,25.8 329.9,29.4 330.5,35.6 331.0,31.9 331.5,38.7 332.1,40.6 332.6,38.6 333.1,39.8 333.7,35.1 334.2,33.4 334.7,37.6 335.3,35.2 335.8,46.9 336.3,46.7 336.9,47.7 337.4,43.8 337.9,50.5 338.5,50.9 339.0,53.2 339.5,45.3 340.0,53.8 340.6,58.8 341.1,62.2 341.6,54.2 342.2,70.3 342.7,65.2 343.2,61.5 343.8,65.4 344.3,68.4 344.8,72.5 345.4,66.1 345.9,75.1 346.4,70.0 347.0,74.2 347.5,65.5 348.0,66.0 348.6,72.7 349.1,70.3 349.6,78.4 350.2,68.8 350.7,66.9 351.2,75.1 351.8,65.7 352.3,59.6 352.8,58.1 353.4,57.8 353.9,65.9 354.4,52.6 355.0,61.7 355.5,57.0 356.0,54.8 356.6,55.0 357.1,49.8 357.6,39.2 358.1,49.4 358.7,44.1 359.2,47.4 359.7,43.8 360.3,34.6 360.8,44.5 361.3,33.8 361.9,36.4 362.4,31.0 362.9,35.6 363.5,29.2 364.0,32.5 364.5,27.6 365.1,28.6 365.6,27.7 366.1,29.2 366.7,33.6 367.2,34.8 367.7,33.8 368.3,46.0 368.8,38.8 369.3,47.8 369.9,39.8 370.4,51.7 370.9,42.2 371.5,51.3 372.0,46.2 372.5,56.1 373.1,50.8 373.6,50.9 374.1,52.9 374.7,52.0 375.2,51.6 375.7,58.2 376.3,52.9 376.8,62.1 377.3,58.8 377.8,63.7 378.4,62.4 378.9,61.1 379.4,53.5 380.0,63.0 380.5,60.7 381.0,64.9 381.6,67.5 382.1,60.1 382.6,61.6 383.2,66.3 383.7,66.3 384.2,69.0 384.8,59.9 385.3,63.4 385.8,75.1 386.4,67.8 386.9,64.9 387.4,63.9 388.0,58.2 388.5,62.6 389.0,56.6 389.6,52.6 390.1,50.4 390.6,49.6 391.2,49.5 391.7,42.0 392.2,41.5 392.8,42.4 393.3,39.1 393.8,27.9 394.4,31.6 394.9,30.8 395.4,32.1 395.9,30.1 396.5,32.0 397.0,41.6 397.5,38.6 398.1,36.5 398.6,34.8 399.1,34.2 399.7,31.0 400.2,32.2 400.7,29.7 401.3,34.1 401.8,32.4 402.3,26.6 402.9,29.7 403.4,35.3 403.9,33.0 404.5,37.7 405.0,34.5 405.5,39.8 406.1,38.4 406.6,29.8 407.1,43.3 407.7,43.3 408.2,53.2 408.7,47.6 409.3,52.6 409.8,54.2 410.3,56.6 410.9,60.9 411.4,64.3 411.9,62.3 412.5,69.1 413.0,70.1 413.5,67.1 414.0,67.1 414.6,74.7 415.1,68.0 415.6,65.8 416.2,71.0 416.7,69.3 417.2,64.2 417.8,69.5 418.3,66.3 418.8,64.1 419.4,65.1 419.9,66.8 420.4,70.5 421.0,66.3 421.5,67.7 422.0,56.0 422.6,62.7 423.1,57.7 423.6,56.4 424.2,57.2 424.7,54.2 425.2,52.0 425.8,52.0 426.3,44.8 426.8,47.7 427.4,39.9 427.9,40.8 428.4,47.6 429.0,39.4 429.5,40.1 430.0,38.3 430.6,27.9 431.1,42.9 431.6,31.4 432.2,31.5 432.7,39.7 433.2,30.0 433.7,38.1 434.3,34.7 434.8,33.5 435.3,32.4 435.9,37.5 436.4,36.5 436.9,30.6 437.5,32.4 438.0,35.5 438.5,30.5 439.1,26.9 439.6,31.2 440.1,36.4 440.7,42.2 441.2,44.2 441.7,35.4 442.3,47.1 442.8,50.0 443.3,50.0 443.9,51.7 444.4,60.7 444.9,58.7 445.5,60.3 446.0,59.0 446.5,56.9 447.1,67.2 447.6,63.6 448.1,55.7 448.7,55.5 449.2,49.3 449.7,61.7 450.3,61.4 450.8,60.8 451.3,70.0 451.8,66.9 452.4,61.9 452.9,69.2 453.4,59.7 454.0,63.8 454.5,65.5 455.0,65.1 455.6,64.5 456.1,69.9 456.6,66.8 457.2,71.8 457.7,64.5 458.2,69.1 458.8,63.6 459.3,61.8 459.8,53.7 460.4,57.9 460.9,57.8 461.4,55.8 462.0,52.0 462.5,46.0 463.0,53.0 463.6,52.1 464.1,45.4 464.6,42.2 465.2,36.1 465.7,35.7 466.2,37.0 466.8,38.7 467.3,36.8 467.8,32.8 468.4,33.7 468.9,28.5 469.4,35.2 469.9,39.8 470.5,34.6 471.0,39.4 471.5,39.4 472.1,39.8 472.6,44.3 473.1,39.0 473.7,39.6 474.2,43.4 474.7,34.1 475.3,34.6 475.8,29.1 476.3,31.5 476.9,32.1 477.4,31.5 477.9,37.6 478.5,42.4 479.0,33.5 479.5,43.0 480.1,39.7 480.6,45.5 481.1,44.4 481.7,50.0 482.2,47.2 482.7,55.1 483.3,48.5 483.8,58.2 484.3,53.4 484.9,66.3 485.4,60.6 485.9,61.6 486.5,62.9 487.0,59.5 487.5,65.9 488.1,59.2 488.6,69.8 489.1,61.7 489.6,62.1 490.2,72.3 490.7,59.3 491.2,73.0 491.8,60.1 492.3,61.9 492.8,60.5 493.4,64.9 493.9,69.5 494.4,59.6 495.0,65.2 495.5,52.7 496.0,54.8 496.6,50.2 497.1,43.5 497.6,58.5 498.2,45.9 498.7,50.2 499.2,44.2 499.8,43.5 500.3,46.0 500.8,39.0 501.4,43.5 501.9,37.3 502.4,48.1 503.0,36.6 503.5,42.0 504.0,40.4 504.6,35.2 505.1,38.5 505.6,39.7 506.2,37.6 506.7,37.2 507.2,30.3 507.7,29.0 508.3,33.5 508.8,27.4 509.3,22.6 509.9,24.0 510.4,33.9 510.9,27.7 511.5,42.7 512.0,34.2 512.5,43.3 513.1,45.5 513.6,49.1 514.1,58.5 514.7,48.5 515.2,46.9 515.7,47.1 516.3,49.0 516.8,51.7 517.3,50.0 517.9,51.1 518.4,54.9 518.9,55.6 519.5,57.5 520.0,57.8 520.5,65.4 521.1,63.9 521.6,61.7 522.1,67.3 522.7,63.5 523.2,72.5 523.7,64.5 524.3,70.9 524.8,76.5 525.3,58.2 525.8,66.9 526.4,58.8 526.9,71.1 527.4,69.4 528.0,62.4 528.5,61.8 529.0,67.4 529.6,67.6 530.1,53.4 530.6,56.9 531.2,60.2 531.7,52.8 532.2,54.5 532.8,48.2 533.3,49.0 533.8,52.3 534.4,48.3 534.9,41.4 535.4,47.1 536.0,34.9 536.5,43.6 537.0,37.2 537.6,42.6 538.1,37.5 538.6,40.2 539.2,35.7 539.7,37.2 540.2,41.8 540.8,35.3 541.3,40.6 541.8,32.5 542.4,28.6 542.9,36.3 543.4,36.5 544.0,30.3 544.5,36.1 545.0,26.7 545.5,33.6 546.1,30.4 546.6,29.9" fill="none" stroke="#0072BD" stroke-width="1.0" stroke-linejoin="round"/>
<polyline points="314.5,73.9 315.0,64.0 315.6,57.2 316.1,59.6 316.6,62.0 317.2,58.8 317.7,55.2 318.2,43.9 318.8,47.8 319.3,57.4 319.8,53.5 320.3,50.0 320.9,39.2 321.4,46.5 321.9,42.5 322.5,40.8 323.0,49.2 323.5,43.2 324.1,35.5 324.6,42.6 325.1,32.9 325.7,36.4 326.2,39.9 326.7,37.5 327.3,43.7 327.8,34.4 328.3,38.0 328.9,35.4 329.4,31.3 329.9,46.3 330.5,35.8 331.0,29.2 331.5,37.2 332.1,35.5 332.6,31.8 333.1,29.7 333.7,20.2 334.2,37.8 334.7,43.6 335.3,37.2 335.8,43.3 336.3,43.1 336.9,35.5 337.4,50.6 337.9,44.6 338.5,42.7 339.0,57.3 339.5,52.2 340.0,59.2 340.6,59.7 341.1,61.2 341.6,56.5 342.2,60.8 342.7,57.5 343.2,58.6 343.8,68.8 344.3,67.3 344.8,54.2 345.4,67.2 345.9,70.2 346.4,72.2 347.0,75.3 347.5,79.1 348.0,75.8 348.6,74.6 349.1,65.7 349.6,75.0 350.2,66.3 350.7,65.9 351.2,74.3 351.8,59.9 352.3,65.7 352.8,58.5 353.4,60.1 353.9,56.3 354.4,61.8 355.0,55.2 355.5,62.1 356.0,56.5 356.6,54.1 357.1,47.4 357.6,53.5 358.1,46.6 358.7,46.3 359.2,31.8 359.7,46.0 360.3,39.4 360.8,36.0 361.3,42.9 361.9,46.4 362.4,28.9 362.9,39.2 363.5,34.4 364.0,34.2 364.5,26.7 365.1,31.9 365.6,30.3 366.1,26.3 366.7,35.1 367.2,30.7 367.7,34.5 368.3,31.3 368.8,32.5 369.3,38.4 369.9,43.6 370.4,42.4 370.9,43.4 371.5,46.2 372.0,47.3 372.5,48.7 373.1,48.8 373.6,65.1 374.1,53.0 374.7,64.5 375.2,56.2 375.7,60.1 376.3,55.8 376.8,60.3 377.3,55.6 377.8,57.4 378.4,76.4 378.9,46.1 379.4,56.0 380.0,75.5 380.5,67.4 381.0,61.0 381.6,67.2 382.1,68.3 382.6,56.1 383.2,64.1 383.7,58.9 384.2,68.6 384.8,69.1 385.3,69.2 385.8,65.1 386.4,67.3 386.9,63.4 387.4,66.1 388.0,55.3 388.5,54.7 389.0,56.3 389.6,60.1 390.1,56.9 390.6,47.0 391.2,45.9 391.7,47.4 392.2,46.6 392.8,37.8 393.3,35.8 393.8,27.5 394.4,27.8 394.9,38.1 395.4,31.4 395.9,31.3 396.5,39.6 397.0,40.7 397.5,30.3 398.1,42.2 398.6,42.7 399.1,37.7 399.7,37.3 400.2,33.4 400.7,41.3 401.3,34.6 401.8,32.1 402.3,29.4 402.9,29.6 403.4,31.6 403.9,22.4 404.5,31.5 405.0,32.4 405.5,36.3 406.1,38.5 406.6,33.5 407.1,46.9 407.7,35.7 408.2,44.2 408.7,46.1 409.3,49.2 409.8,46.6 410.3,48.9 410.9,48.2 411.4,52.5 411.9,56.0 412.5,54.2 413.0,53.5 413.5,63.6 414.0,65.4 414.6,68.4 415.1,63.4 415.6,74.5 416.2,71.8 416.7,69.0 417.2,67.6 417.8,67.4 418.3,61.6 418.8,71.3 419.4,62.6 419.9,64.7 420.4,71.0 421.0,68.6 421.5,56.2 422.0,58.9 422.6,55.4 423.1,59.3 423.6,49.8 424.2,53.9 424.7,51.1 425.2,56.0 425.8,49.5 426.3,47.6 426.8,43.2 427.4,37.5 427.9,42.4 428.4,31.2 429.0,31.4 429.5,29.8 430.0,29.3 430.6,27.4 431.1,38.0 431.6,26.7 432.2,32.8 432.7,33.6 433.2,38.6 433.7,27.3 434.3,39.7 434.8,39.6 435.3,42.8 435.9,32.1 436.4,33.4 436.9,28.9 437.5,32.3 438.0,29.4 438.5,36.0 439.1,31.5 439.6,44.2 440.1,38.9 440.7,45.0 441.2,33.7 441.7,42.2 442.3,45.5 442.8,41.1 443.3,46.3 443.9,49.1 444.4,48.3 444.9,54.1 445.5,49.7 446.0,58.8 446.5,61.2 447.1,60.9 447.6,58.0 448.1,60.2 448.7,68.2 449.2,57.9 449.7,64.2 450.3,57.4 450.8,61.1 451.3,59.7 451.8,69.2 452.4,63.4 452.9,63.0 453.4,59.6 454.0,71.4 454.5,66.3 455.0,67.1 455.6,77.5 456.1,67.5 456.6,67.9 457.2,71.3 457.7,74.2 458.2,61.4 458.8,62.5 459.3,54.8 459.8,58.8 460.4,51.7 460.9,48.9 461.4,47.3 462.0,44.0 462.5,53.7 463.0,42.6 463.6,57.3 464.1,41.5 464.6,41.9 465.2,45.2 465.7,43.4 466.2,36.3 466.8,37.8 467.3,40.4 467.8,36.3 468.4,32.5 468.9,38.8 469.4,39.3 469.9,37.8 470.5,40.4 471.0,34.5 471.5,29.9 472.1,29.2 472.6,39.9 473.1,33.1 473.7,35.4 474.2,35.5 474.7,35.6 475.3,28.2 475.8,34.0 476.3,30.5 476.9,38.0 477.4,36.3 477.9,35.7 478.5,38.8 479.0,45.5 479.5,42.1 480.1,42.1 480.6,51.7 481.1,50.0 481.7,51.1 482.2,60.0 482.7,57.5 483.3,60.9 483.8,54.0 484.3,61.9 484.9,62.2 485.4,61.9 485.9,65.7 486.5,55.8 487.0,73.2 487.5,60.1 488.1,70.9 488.6,61.5 489.1,70.8 489.6,58.7 490.2,71.7 490.7,68.3 491.2,65.5 491.8,69.7 492.3,66.2 492.8,73.9 493.4,60.4 493.9,67.9 494.4,72.5 495.0,62.3 495.5,55.2 496.0,56.4 496.6,54.9 497.1,44.1 497.6,53.0 498.2,43.6 498.7,52.7 499.2,47.1 499.8,48.4 500.3,49.2 500.8,39.4 501.4,44.9 501.9,41.9 502.4,37.0 503.0,40.6 503.5,37.6 504.0,38.2 504.6,34.5 505.1,36.4 505.6,41.8 506.2,36.0 506.7,27.7 507.2,39.8 507.7,33.0 508.3,32.6 508.8,35.5 509.3,26.7 509.9,23.2 510.4,37.5 510.9,32.2 511.5,36.9 512.0,33.1 512.5,35.9 513.1,37.8 513.6,43.4 514.1,39.2 514.7,40.8 515.2,41.9 515.7,47.5 516.3,48.8 516.8,44.5 517.3,53.8 517.9,56.4 518.4,47.5 518.9,53.0 519.5,56.1 520.0,61.7 520.5,64.4 521.1,63.8 521.6,69.9 522.1,69.3 522.7,71.8 523.2,55.9 523.7,66.1 524.3,69.9 524.8,63.1 525.3,73.2 525.8,74.2 526.4,64.7 526.9,67.0 527.4,69.0 528.0,72.2 528.5,63.6 529.0,69.8 529.6,51.2 530.1,63.3 530.6,59.2 531.2,57.5 531.7,58.4 532.2,58.0 532.8,47.2 533.3,49.9 533.8,42.0 534.4,44.7 534.9,38.6 535.4,40.3 536.0,47.0 536.5,31.6 537.0,44.5 537.6,25.4 538.1,45.0 538.6,38.1 539.2,50.6 539.7,35.6 540.2,45.1 540.8,33.4 541.3,43.4 541.8,39.1 542.4,31.5 542.9,31.9 543.4,37.1 544.0,37.2 544.5,36.3 545.0,34.1 545.5,27.8 546.1,36.8 546.6,40.4" fill="none" stroke="#D95319" stroke-width="1.0" stroke-linejoin="round"/>
</g>
<rect x="314.6" y="19.6" width="231.80" height="57.60" fill="none" stroke="#727272" stroke-width="1"/>
<line x1="365.07" y1="77.2" x2="365.07" y2="74.9" stroke="#727272" stroke-width="0.8"/>
<line x1="365.07" y1="19.6" x2="365.07" y2="21.900000000000002" stroke="#727272" stroke-width="0.8"/>
<text x="362.37" y="85.80" font-size="5.2" text-anchor="middle">100</text>
<line x1="418.31" y1="77.2" x2="418.31" y2="74.9" stroke="#727272" stroke-width="0.8"/>
<line x1="418.31" y1="19.6" x2="418.31" y2="21.900000000000002" stroke="#727272" stroke-width="0.8"/>
<text x="415.61" y="85.80" font-size="5.2" text-anchor="middle">150</text>
<line x1="471.55" y1="77.2" x2="471.55" y2="74.9" stroke="#727272" stroke-width="0.8"/>
<line x1="471.55" y1="19.6" x2="471.55" y2="21.900000000000002" stroke="#727272" stroke-width="0.8"/>
<text x="468.85" y="85.80" font-size="5.2" text-anchor="middle">200</text>
<line x1="524.79" y1="77.2" x2="524.79" y2="74.9" stroke="#727272" stroke-width="0.8"/>
<line x1="524.79" y1="19.6" x2="524.79" y2="21.900000000000002" stroke="#727272" stroke-width="0.8"/>
<text x="522.09" y="85.80" font-size="5.2" text-anchor="middle">250</text>
<line x1="314.6" y1="64.40" x2="316.90000000000003" y2="64.40" stroke="#727272" stroke-width="0.8"/>
<line x1="546.4" y1="64.40" x2="544.1" y2="64.40" stroke="#727272" stroke-width="0.8"/>
<text x="304.10" y="64.20" font-size="5.2" text-anchor="end">-0.05</text>
<line x1="314.6" y1="51.60" x2="316.90000000000003" y2="51.60" stroke="#727272" stroke-width="0.8"/>
<line x1="546.4" y1="51.60" x2="544.1" y2="51.60" stroke="#727272" stroke-width="0.8"/>
<text x="309.20" y="51.40" font-size="5.2" text-anchor="end">0</text>
<line x1="314.6" y1="38.80" x2="316.90000000000003" y2="38.80" stroke="#727272" stroke-width="0.8"/>
<line x1="546.4" y1="38.80" x2="544.1" y2="38.80" stroke="#727272" stroke-width="0.8"/>
<text x="304.90" y="38.60" font-size="5.2" text-anchor="end">0.05</text>
<line x1="314.6" y1="26.00" x2="316.90000000000003" y2="26.00" stroke="#727272" stroke-width="0.8"/>
<line x1="546.4" y1="26.00" x2="544.1" y2="26.00" stroke="#727272" stroke-width="0.8"/>
<text x="307.00" y="25.80" font-size="5.2" text-anchor="end">0.1</text>
<text transform="translate(283.40,51.80) rotate(-90)" font-size="5.8" text-anchor="middle">dv<tspan dx="3.3" dy="5.3" font-size="4.3">N</tspan><tspan dx="2.5" dy="-4.5">/(m/s)</tspan></text>
<clipPath id="c11"><rect x="314.6" y="99.3" width="231.80" height="57.40"/></clipPath>
<line x1="365.07" y1="99.3" x2="365.07" y2="156.7" stroke="#e4e4e4" stroke-width="0.8"/>
<line x1="418.31" y1="99.3" x2="418.31" y2="156.7" stroke="#e4e4e4" stroke-width="0.8"/>
<line x1="471.55" y1="99.3" x2="471.55" y2="156.7" stroke="#e4e4e4" stroke-width="0.8"/>
<line x1="524.79" y1="99.3" x2="524.79" y2="156.7" stroke="#e4e4e4" stroke-width="0.8"/>
<line x1="314.6" y1="156.70" x2="546.4" y2="156.70" stroke="#e4e4e4" stroke-width="0.8"/>
<line x1="314.6" y1="128.00" x2="546.4" y2="128.00" stroke="#e4e4e4" stroke-width="0.8"/>
<line x1="314.6" y1="99.30" x2="546.4" y2="99.30" stroke="#e4e4e4" stroke-width="0.8"/>
<g clip-path="url(#c11)">
<polyline points="314.5,113.4 315.0,115.9 315.6,119.9 316.1,124.7 316.6,129.5 317.2,133.7 317.7,138.3 318.2,142.8 318.8,144.3 319.3,149.1 319.8,150.8 320.3,152.8 320.9,154.6 321.4,150.8 321.9,150.1 322.5,149.1 323.0,144.5 323.5,142.7 324.1,140.0 324.6,134.0 325.1,130.5 325.7,124.0 326.2,121.7 326.7,115.2 327.3,113.9 327.8,108.8 328.3,107.0 328.9,104.0 329.4,103.5 329.9,104.4 330.5,107.4 331.0,105.3 331.5,109.1 332.1,110.1 332.6,115.4 333.1,118.1 333.7,122.8 334.2,127.4 334.7,131.8 335.3,136.2 335.8,140.7 336.3,144.7 336.9,148.9 337.4,151.6 337.9,150.4 338.5,151.3 339.0,152.4 339.5,152.4 340.0,150.1 340.6,147.8 341.1,144.7 341.6,139.5 342.2,134.7 342.7,133.1 343.2,127.4 343.8,121.3 344.3,116.8 344.8,115.7 345.4,110.8 345.9,109.4 346.4,103.7 347.0,104.2 347.5,103.1 348.0,103.7 348.6,105.9 349.1,105.7 349.6,111.4 350.2,112.0 350.7,117.7 351.2,119.6 351.8,126.0 352.3,131.2 352.8,135.0 353.4,140.5 353.9,141.8 354.4,147.2 355.0,149.6 355.5,151.0 356.0,150.4 356.6,153.9 357.1,152.3 357.6,148.6 358.1,149.4 358.7,144.8 359.2,141.7 359.7,138.1 360.3,133.4 360.8,126.9 361.3,124.0 361.9,122.8 362.4,116.3 362.9,110.8 363.5,108.1 364.0,105.0 364.5,105.1 365.1,102.3 365.6,103.3 366.1,105.9 366.7,101.7 367.2,109.0 367.7,113.5 368.3,114.0 368.8,119.4 369.3,125.1 369.9,129.1 370.4,132.2 370.9,138.4 371.5,140.7 372.0,147.1 372.5,149.4 373.1,150.3 373.6,150.9 374.1,152.0 374.7,152.7 375.2,152.3 375.7,146.3 376.3,147.2 376.8,143.6 377.3,139.1 377.8,135.7 378.4,132.1 378.9,125.7 379.4,122.9 380.0,116.9 380.5,112.6 381.0,109.6 381.6,108.1 382.1,103.1 382.6,105.2 383.2,104.6 383.7,103.3 384.2,105.2 384.8,105.7 385.3,111.3 385.8,112.7 386.4,117.6 386.9,121.9 387.4,127.8 388.0,135.1 388.5,132.8 389.0,141.9 389.6,143.5 390.1,143.3 390.6,150.8 391.2,151.9 391.7,152.7 392.2,153.9 392.8,150.4 393.3,149.5 393.8,147.6 394.4,144.6 394.9,141.5 395.4,136.9 395.9,131.8 396.5,128.3 397.0,123.8 397.5,119.4 398.1,114.0 398.6,111.9 399.1,108.5 399.7,104.9 400.2,105.9 400.7,103.2 401.3,102.6 401.8,104.1 402.3,106.6 402.9,109.9 403.4,111.6 403.9,117.0 404.5,118.9 405.0,126.6 405.5,128.2 406.1,133.7 406.6,141.2 407.1,141.8 407.7,145.8 408.2,149.8 408.7,151.0 409.3,152.3 409.8,153.2 410.3,151.5 410.9,148.1 411.4,149.9 411.9,146.8 412.5,141.3 413.0,139.0 413.5,135.1 414.0,129.6 414.6,125.4 415.1,121.6 415.6,115.6 416.2,111.7 416.7,110.2 417.2,105.8 417.8,104.6 418.3,104.6 418.8,102.8 419.4,103.1 419.9,106.5 420.4,107.9 421.0,110.8 421.5,115.1 422.0,117.8 422.6,123.1 423.1,127.5 423.6,130.9 424.2,138.4 424.7,139.9 425.2,145.7 425.8,146.7 426.3,149.5 426.8,151.4 427.4,153.0 427.9,151.3 428.4,152.1 429.0,150.1 429.5,147.1 430.0,144.4 430.6,140.6 431.1,137.1 431.6,131.0 432.2,126.7 432.7,122.6 433.2,117.5 433.7,114.4 434.3,110.6 434.8,105.9 435.3,107.3 435.9,103.0 436.4,103.3 436.9,103.3 437.5,105.2 438.0,105.8 438.5,108.6 439.1,115.6 439.6,115.7 440.1,124.4 440.7,124.7 441.2,129.4 441.7,135.3 442.3,139.6 442.8,143.0 443.3,145.4 443.9,150.4 444.4,150.2 444.9,151.5 445.5,152.6 446.0,152.3 446.5,151.0 447.1,148.6 447.6,145.5 448.1,142.9 448.7,138.2 449.2,134.8 449.7,127.4 450.3,123.0 450.8,121.2 451.3,114.8 451.8,113.3 452.4,107.9 452.9,106.5 453.4,103.1 454.0,103.7 454.5,105.2 455.0,104.9 455.6,104.6 456.1,108.1 456.6,112.0 457.2,114.8 457.7,120.4 458.2,122.2 458.8,129.4 459.3,132.0 459.8,137.8 460.4,140.9 460.9,145.1 461.4,148.5 462.0,149.5 462.5,152.3 463.0,152.8 463.6,151.9 464.1,151.0 464.6,150.0 465.2,148.1 465.7,141.1 466.2,139.7 466.8,133.5 467.3,130.4 467.8,124.6 468.4,122.4 468.9,116.3 469.4,113.0 469.9,111.0 470.5,105.5 471.0,107.5 471.5,102.5 472.1,104.1 472.6,103.3 473.1,105.7 473.7,107.1 474.2,109.9 474.7,112.8 475.3,119.0 475.8,121.7 476.3,126.6 476.9,133.1 477.4,135.5 477.9,140.5 478.5,142.8 479.0,147.0 479.5,149.0 480.1,152.6 480.6,152.9 481.1,152.9 481.7,151.4 482.2,148.2 482.7,148.4 483.3,143.8 483.8,143.1 484.3,135.7 484.9,132.9 485.4,127.6 485.9,122.0 486.5,118.2 487.0,115.0 487.5,110.4 488.1,107.8 488.6,104.6 489.1,104.6 489.6,102.4 490.2,102.9 490.7,104.1 491.2,105.8 491.8,110.4 492.3,112.6 492.8,115.0 493.4,119.0 493.9,124.4 494.4,129.8 495.0,133.4 495.5,137.1 496.0,142.9 496.6,146.3 497.1,148.5 497.6,150.5 498.2,151.7 498.7,153.7 499.2,151.7 499.8,151.0 500.3,147.7 500.8,147.3 501.4,142.2 501.9,138.5 502.4,133.9 503.0,128.7 503.5,126.5 504.0,119.8 504.6,117.9 505.1,112.2 505.6,110.2 506.2,106.6 506.7,105.3 507.2,101.5 507.7,103.0 508.3,105.7 508.8,105.2 509.3,106.7 509.9,110.6 510.4,116.6 510.9,118.1 511.5,123.5 512.0,128.1 512.5,133.5 513.1,136.9 513.6,140.6 514.1,143.8 514.7,154.1 515.2,149.1 515.7,151.2 516.3,152.5 516.8,151.7 517.3,152.5 517.9,148.9 518.4,147.8 518.9,142.7 519.5,143.0 520.0,135.7 520.5,131.2 521.1,126.6 521.6,122.3 522.1,117.2 522.7,114.7 523.2,109.1 523.7,105.0 524.3,105.8 524.8,103.0 525.3,104.2 525.8,105.4 526.4,104.1 526.9,108.8 527.4,109.0 528.0,114.4 528.5,115.9 529.0,122.5 529.6,124.8 530.1,129.1 530.6,135.3 531.2,140.3 531.7,143.7 532.2,148.7 532.8,150.0 533.3,150.6 533.8,152.1 534.4,151.0 534.9,153.1 535.4,151.0 536.0,152.3 536.5,143.9 537.0,143.4 537.6,136.9 538.1,132.4 538.6,129.7 539.2,124.9 539.7,117.7 540.2,118.4 540.8,111.0 541.3,107.6 541.8,106.1 542.4,102.6 542.9,105.5 543.4,103.4 544.0,104.5 544.5,105.8 545.0,106.8 545.5,112.9 546.1,115.9 546.6,120.2" fill="none" stroke="#0072BD" stroke-width="1.0" stroke-linejoin="round"/>
<polyline points="314.5,119.1 315.0,121.5 315.6,121.2 316.1,126.5 316.6,134.2 317.2,133.6 317.7,140.8 318.2,138.9 318.8,149.0 319.3,145.7 319.8,151.7 320.3,154.2 320.9,150.8 321.4,150.1 321.9,148.8 322.5,141.8 323.0,144.8 323.5,137.3 324.1,132.8 324.6,127.0 325.1,126.3 325.7,120.7 326.2,114.8 326.7,114.5 327.3,108.7 327.8,108.5 328.3,104.7 328.9,105.8 329.4,102.0 329.9,105.5 330.5,104.6 331.0,107.5 331.5,112.4 332.1,117.5 332.6,117.8 333.1,121.6 333.7,124.9 334.2,131.0 334.7,132.5 335.3,142.7 335.8,141.6 336.3,146.1 336.9,147.5 337.4,149.2 337.9,153.8 338.5,152.9 339.0,154.9 339.5,148.2 340.0,149.4 340.6,145.2 341.1,142.6 341.6,138.3 342.2,132.7 342.7,124.1 343.2,125.5 343.8,122.3 344.3,113.0 344.8,111.7 345.4,108.0 345.9,106.4 346.4,103.3 347.0,106.4 347.5,100.9 348.0,101.8 348.6,108.1 349.1,107.2 349.6,110.3 350.2,114.4 350.7,120.2 351.2,125.2 351.8,127.2 352.3,135.6 352.8,137.1 353.4,141.6 353.9,145.8 354.4,148.0 355.0,148.9 355.5,154.5 356.0,155.7 356.6,151.5 357.1,148.6 357.6,147.8 358.1,145.2 358.7,140.2 359.2,139.4 359.7,133.4 360.3,128.8 360.8,127.4 361.3,122.1 361.9,117.7 362.4,111.7 362.9,111.0 363.5,108.5 364.0,108.4 364.5,105.7 365.1,104.1 365.6,101.4 366.1,107.2 366.7,107.9 367.2,110.7 367.7,119.7 368.3,117.3 368.8,126.8 369.3,131.6 369.9,130.8 370.4,136.5 370.9,137.5 371.5,143.5 372.0,147.3 372.5,150.0 373.1,152.5 373.6,151.4 374.1,150.4 374.7,152.2 375.2,151.8 375.7,146.6 376.3,145.4 376.8,137.8 377.3,138.2 377.8,129.9 378.4,127.3 378.9,121.8 379.4,119.5 380.0,115.3 380.5,113.7 381.0,108.3 381.6,105.1 382.1,105.3 382.6,104.1 383.2,104.9 383.7,106.1 384.2,110.0 384.8,112.2 385.3,112.5 385.8,118.2 386.4,122.4 386.9,124.8 387.4,130.2 388.0,134.2 388.5,140.9 389.0,144.3 389.6,147.8 390.1,151.8 390.6,149.8 391.2,152.6 391.7,150.5 392.2,152.4 392.8,148.5 393.3,147.0 393.8,145.5 394.4,140.2 394.9,135.2 395.4,131.1 395.9,128.1 396.5,125.6 397.0,122.1 397.5,117.6 398.1,111.1 398.6,110.5 399.1,108.6 399.7,104.9 400.2,103.8 400.7,105.8 401.3,105.9 401.8,106.3 402.3,110.6 402.9,113.7 403.4,114.1 403.9,120.1 404.5,128.0 405.0,128.3 405.5,133.2 406.1,136.0 406.6,144.2 407.1,141.9 407.7,147.9 408.2,147.9 408.7,149.9 409.3,152.1 409.8,152.2 410.3,156.2 410.9,148.3 411.4,146.8 411.9,143.6 412.5,136.6 413.0,138.6 413.5,131.5 414.0,126.2 414.6,121.9 415.1,117.6 415.6,112.9 416.2,111.5 416.7,106.2 417.2,105.8 417.8,104.6 418.3,104.8 418.8,104.9 419.4,103.3 419.9,110.1 420.4,111.4 421.0,113.6 421.5,119.1 422.0,121.0 422.6,128.1 423.1,131.9 423.6,137.3 424.2,137.0 424.7,145.2 425.2,149.7 425.8,148.5 426.3,151.3 426.8,151.1 427.4,153.3 427.9,150.1 428.4,149.4 429.0,142.8 429.5,143.3 430.0,141.9 430.6,135.6 431.1,133.3 431.6,129.7 432.2,126.2 432.7,116.1 433.2,114.7 433.7,113.3 434.3,105.9 434.8,104.6 435.3,102.5 435.9,103.3 436.4,104.7 436.9,104.0 437.5,107.3 438.0,111.2 438.5,113.3 439.1,119.5 439.6,122.9 440.1,127.2 440.7,133.1 441.2,137.4 441.7,139.2 442.3,145.2 442.8,149.0 443.3,147.9 443.9,151.0 444.4,151.3 444.9,155.5 445.5,149.1 446.0,149.8 446.5,152.0 447.1,142.6 447.6,142.9 448.1,137.5 448.7,134.7 449.2,131.1 449.7,123.2 450.3,122.0 450.8,115.7 451.3,115.6 451.8,108.0 452.4,109.5 452.9,99.5 453.4,104.9 454.0,104.3 454.5,105.0 455.0,107.2 455.6,111.3 456.1,111.5 456.6,115.7 457.2,115.1 457.7,123.8 458.2,128.4 458.8,131.7 459.3,135.4 459.8,141.5 460.4,140.5 460.9,149.3 461.4,150.2 462.0,150.7 462.5,149.6 463.0,149.0 463.6,150.2 464.1,149.0 464.6,147.6 465.2,143.9 465.7,138.9 466.2,134.5 466.8,133.7 467.3,129.7 467.8,119.3 468.4,118.5 468.9,112.8 469.4,105.7 469.9,105.6 470.5,102.6 471.0,106.1 471.5,103.2 472.1,108.3 472.6,110.4 473.1,108.3 473.7,108.9 474.2,116.3 474.7,116.9 475.3,124.1 475.8,128.5 476.3,133.6 476.9,137.9 477.4,139.4 477.9,142.2 478.5,148.7 479.0,151.1 479.5,150.4 480.1,153.0 480.6,151.8 481.1,151.7 481.7,148.4 482.2,149.2 482.7,144.5 483.3,143.2 483.8,137.2 484.3,131.6 484.9,127.9 485.4,123.3 485.9,117.8 486.5,114.8 487.0,109.5 487.5,106.7 488.1,106.4 488.6,104.7 489.1,104.4 489.6,103.2 490.2,103.0 490.7,105.8 491.2,108.1 491.8,112.6 492.3,117.0 492.8,119.2 493.4,124.6 493.9,130.5 494.4,137.8 495.0,132.7 495.5,143.1 496.0,146.2 496.6,147.8 497.1,147.5 497.6,151.2 498.2,152.1 498.7,149.1 499.2,149.5 499.8,146.5 500.3,144.5 500.8,138.2 501.4,138.1 501.9,134.9 502.4,129.0 503.0,126.7 503.5,120.7 504.0,117.9 504.6,115.7 505.1,107.6 505.6,110.1 506.2,106.7 506.7,105.2 507.2,107.4 507.7,103.4 508.3,109.7 508.8,107.6 509.3,114.3 509.9,116.9 510.4,117.6 510.9,123.9 511.5,129.1 512.0,131.4 512.5,134.9 513.1,141.0 513.6,140.7 514.1,146.8 514.7,150.5 515.2,149.2 515.7,150.7 516.3,150.6 516.8,153.0 517.3,149.0 517.9,148.5 518.4,146.6 518.9,142.3 519.5,138.9 520.0,132.4 520.5,126.2 521.1,122.2 521.6,117.6 522.1,116.2 522.7,108.5 523.2,107.8 523.7,106.8 524.3,102.8 524.8,106.3 525.3,104.1 525.8,107.1 526.4,108.6 526.9,109.2 527.4,113.5 528.0,119.7 528.5,120.7 529.0,126.6 529.6,128.6 530.1,131.1 530.6,138.8 531.2,146.2 531.7,144.7 532.2,147.3 532.8,152.3 533.3,148.4 533.8,151.2 534.4,151.7 534.9,149.5 535.4,149.4 536.0,145.7 536.5,142.6 537.0,138.9 537.6,134.1 538.1,129.7 538.6,128.4 539.2,118.6 539.7,115.8 540.2,110.8 540.8,108.9 541.3,108.6 541.8,103.1 542.4,101.4 542.9,105.8 543.4,103.7 544.0,107.0 544.5,107.4 545.0,112.1 545.5,113.3 546.1,123.5 546.6,124.8" fill="none" stroke="#D95319" stroke-width="1.0" stroke-linejoin="round"/>
</g>
<rect x="314.6" y="99.3" width="231.80" height="57.40" fill="none" stroke="#727272" stroke-width="1"/>
<line x1="365.07" y1="156.7" x2="365.07" y2="154.39999999999998" stroke="#727272" stroke-width="0.8"/>
<line x1="365.07" y1="99.3" x2="365.07" y2="101.6" stroke="#727272" stroke-width="0.8"/>
<text x="362.37" y="165.30" font-size="5.2" text-anchor="middle">100</text>
<line x1="418.31" y1="156.7" x2="418.31" y2="154.39999999999998" stroke="#727272" stroke-width="0.8"/>
<line x1="418.31" y1="99.3" x2="418.31" y2="101.6" stroke="#727272" stroke-width="0.8"/>
<text x="415.61" y="165.30" font-size="5.2" text-anchor="middle">150</text>
<line x1="471.55" y1="156.7" x2="471.55" y2="154.39999999999998" stroke="#727272" stroke-width="0.8"/>
<line x1="471.55" y1="99.3" x2="471.55" y2="101.6" stroke="#727272" stroke-width="0.8"/>
<text x="468.85" y="165.30" font-size="5.2" text-anchor="middle">200</text>
<line x1="524.79" y1="156.7" x2="524.79" y2="154.39999999999998" stroke="#727272" stroke-width="0.8"/>
<line x1="524.79" y1="99.3" x2="524.79" y2="101.6" stroke="#727272" stroke-width="0.8"/>
<text x="522.09" y="165.30" font-size="5.2" text-anchor="middle">250</text>
<line x1="314.6" y1="156.70" x2="316.90000000000003" y2="156.70" stroke="#727272" stroke-width="0.8"/>
<line x1="546.4" y1="156.70" x2="544.1" y2="156.70" stroke="#727272" stroke-width="0.8"/>
<text x="305.30" y="156.50" font-size="5.2" text-anchor="end">-0.2</text>
<line x1="314.6" y1="128.00" x2="316.90000000000003" y2="128.00" stroke="#727272" stroke-width="0.8"/>
<line x1="546.4" y1="128.00" x2="544.1" y2="128.00" stroke="#727272" stroke-width="0.8"/>
<text x="309.20" y="127.80" font-size="5.2" text-anchor="end">0</text>
<line x1="314.6" y1="99.30" x2="316.90000000000003" y2="99.30" stroke="#727272" stroke-width="0.8"/>
<line x1="546.4" y1="99.30" x2="544.1" y2="99.30" stroke="#727272" stroke-width="0.8"/>
<text x="307.20" y="99.10" font-size="5.2" text-anchor="end">0.2</text>
<text transform="translate(283.40,132.90) rotate(-90)" font-size="5.8" text-anchor="middle">dv<tspan dx="3.3" dy="5.3" font-size="4.3">E</tspan><tspan dx="2.5" dy="-4.5">/(m/s)</tspan></text>
<clipPath id="c12"><rect x="314.6" y="179.4" width="231.80" height="56.90"/></clipPath>
<line x1="365.07" y1="179.4" x2="365.07" y2="236.3" stroke="#e4e4e4" stroke-width="0.8"/>
<line x1="418.31" y1="179.4" x2="418.31" y2="236.3" stroke="#e4e4e4" stroke-width="0.8"/>
<line x1="471.55" y1="179.4" x2="471.55" y2="236.3" stroke="#e4e4e4" stroke-width="0.8"/>
<line x1="524.79" y1="179.4" x2="524.79" y2="236.3" stroke="#e4e4e4" stroke-width="0.8"/>
<line x1="314.6" y1="227.91" x2="546.4" y2="227.91" stroke="#e4e4e4" stroke-width="0.8"/>
<line x1="314.6" y1="203.96" x2="546.4" y2="203.96" stroke="#e4e4e4" stroke-width="0.8"/>
<line x1="314.6" y1="180.00" x2="546.4" y2="180.00" stroke="#e4e4e4" stroke-width="0.8"/>
<g clip-path="url(#c12)">
<polyline points="314.5,216.2 315.0,212.1 315.6,210.3 316.1,205.5 316.6,204.3 317.2,200.5 317.7,197.6 318.2,194.0 318.8,195.5 319.3,202.4 319.8,201.9 320.3,198.0 320.9,195.6 321.4,191.1 321.9,193.6 322.5,206.6 323.0,214.6 323.5,205.9 324.1,198.0 324.6,203.0 325.1,207.8 325.7,205.2 326.2,198.2 326.7,199.6 327.3,208.6 327.8,207.6 328.3,210.2 328.9,211.4 329.4,204.3 329.9,205.1 330.5,208.6 331.0,209.2 331.5,208.6 332.1,204.4 332.6,199.6 333.1,192.1 333.7,195.6 334.2,204.4 334.7,208.9 335.3,208.7 335.8,202.7 336.3,204.6 336.9,212.1 337.4,206.0 337.9,197.2 338.5,197.4 339.0,204.7 339.5,207.9 340.0,203.2 340.6,197.7 341.1,197.6 341.6,201.4 342.2,207.5 342.7,214.1 343.2,214.6 343.8,207.8 344.3,203.7 344.8,195.5 345.4,191.1 345.9,199.7 346.4,202.1 347.0,206.8 347.5,209.7 348.0,208.2 348.6,203.2 349.1,197.9 349.6,193.2 350.2,191.1 350.7,195.9 351.2,198.3 351.8,204.1 352.3,208.7 352.8,209.1 353.4,206.5 353.9,194.3 354.4,191.3 355.0,202.8 355.5,208.5 356.0,201.7 356.6,197.3 357.1,198.8 357.6,202.5 358.1,198.4 358.7,189.6 359.2,187.5 359.7,195.6 360.3,198.4 360.8,199.8 361.3,196.1 361.9,195.7 362.4,229.4 362.9,214.8 363.5,207.8 364.0,198.3 364.5,192.1 365.1,194.0 365.6,190.9 366.1,193.1 366.7,184.6 367.2,207.8 367.7,213.7 368.3,206.6 368.8,200.6 369.3,205.8 369.9,208.3 370.4,210.5 370.9,219.5 371.5,213.2 372.0,183.5 372.5,183.4 373.1,207.0 373.6,201.5 374.1,206.4 374.7,213.3 375.2,213.0 375.7,210.2 376.3,199.5 376.8,192.5 377.3,192.3 377.8,195.1 378.4,205.1 378.9,215.5 379.4,212.8 380.0,202.2 380.5,195.1 381.0,194.3 381.6,195.9 382.1,202.2 382.6,208.0 383.2,215.4 383.7,211.0 384.2,206.8 384.8,203.6 385.3,205.4 385.8,206.2 386.4,199.3 386.9,192.5 387.4,188.9 388.0,188.8 388.5,198.4 389.0,205.3 389.6,206.3 390.1,200.0 390.6,191.3 391.2,190.7 391.7,203.1 392.2,214.3 392.8,211.6 393.3,203.7 393.8,197.4 394.4,191.7 394.9,193.7 395.4,206.5 395.9,217.6 396.5,217.2 397.0,203.2 397.5,191.8 398.1,192.9 398.6,197.7 399.1,207.8 399.7,211.3 400.2,210.7 400.7,211.7 401.3,208.4 401.8,203.0 402.3,200.0 402.9,197.4 403.4,197.9 403.9,185.5 404.5,210.1 405.0,209.9 405.5,203.0 406.1,197.7 406.6,202.7 407.1,208.2 407.7,206.2 408.2,201.5 408.7,206.7 409.3,215.3 409.8,218.3 410.3,212.7 410.9,205.3 411.4,204.2 411.9,194.7 412.5,189.2 413.0,194.0 413.5,191.5 414.0,192.5 414.6,226.0 415.1,196.7 415.6,184.0 416.2,188.2 416.7,192.2 417.2,194.1 417.8,201.6 418.3,202.7 418.8,193.1 419.4,183.2 419.9,193.0 420.4,204.0 421.0,222.0 421.5,199.4 422.0,201.8 422.6,203.9 423.1,204.2 423.6,203.5 424.2,207.2 424.7,201.7 425.2,194.8 425.8,194.2 426.3,194.2 426.8,190.2 427.4,189.8 427.9,192.9 428.4,195.9 429.0,199.3 429.5,194.3 430.0,196.5 430.6,233.4 431.1,206.0 431.6,181.3 432.2,214.8 432.7,212.3 433.2,201.1 433.7,190.2 434.3,185.4 434.8,196.5 435.3,216.0 435.9,224.9 436.4,221.2 436.9,212.0 437.5,208.7 438.0,211.9 438.5,209.9 439.1,200.1 439.6,191.6 440.1,192.7 440.7,201.1 441.2,188.0 441.7,216.0 442.3,213.5 442.8,206.6 443.3,208.5 443.9,212.9 444.4,211.8 444.9,206.3 445.5,199.6 446.0,199.8 446.5,208.4 447.1,209.1 447.6,204.0 448.1,206.0 448.7,209.2 449.2,207.5 449.7,208.6 450.3,213.2 450.8,214.0 451.3,221.1 451.8,219.0 452.4,212.7 452.9,206.5 453.4,206.3 454.0,203.1 454.5,196.5 455.0,186.5 455.6,183.1 456.1,196.2 456.6,206.9 457.2,206.2 457.7,203.1 458.2,211.4 458.8,222.9 459.3,228.0 459.8,218.5 460.4,211.6 460.9,202.7 461.4,192.6 462.0,197.1 462.5,208.2 463.0,211.2 463.6,206.3 464.1,212.2 464.6,217.9 465.2,220.0 465.7,225.5 466.2,226.6 466.8,216.2 467.3,207.5 467.8,202.7 468.4,197.1 468.9,193.5 469.4,198.1 469.9,204.6 470.5,206.4 471.0,202.8 471.5,195.3 472.1,192.9 472.6,200.0 473.1,205.4 473.7,199.2 474.2,200.5 474.7,201.7 475.3,192.7 475.8,187.9 476.3,194.1 476.9,203.0 477.4,203.9 477.9,200.1 478.5,203.2 479.0,205.2 479.5,198.5 480.1,193.3 480.6,195.8 481.1,199.7 481.7,199.0 482.2,197.6 482.7,191.1 483.3,231.6 483.8,193.2 484.3,195.9 484.9,192.1 485.4,201.7 485.9,224.1 486.5,229.4 487.0,213.4 487.5,201.1 488.1,199.0 488.6,197.1 489.1,199.8 489.6,200.9 490.2,206.0 490.7,218.3 491.2,227.2 491.8,214.8 492.3,196.7 492.8,186.1 493.4,187.7 493.9,194.7 494.4,180.3 495.0,205.1 495.5,216.9 496.0,206.4 496.6,189.3 497.1,189.4 497.6,204.6 498.2,208.5 498.7,199.9 499.2,193.9 499.8,193.6 500.3,196.2 500.8,204.5 501.4,216.4 501.9,224.2 502.4,222.3 503.0,216.4 503.5,217.8 504.0,219.9 504.6,218.9 505.1,213.2 505.6,206.2 506.2,202.0 506.7,209.2 507.2,206.3 507.7,189.5 508.3,182.0 508.8,199.3 509.3,208.9 509.9,203.2 510.4,200.9 510.9,202.8 511.5,202.4 512.0,185.7 512.5,221.5 513.1,226.9 513.6,217.7 514.1,202.1 514.7,193.5 515.2,200.1 515.7,202.0 516.3,200.2 516.8,211.2 517.3,209.3 517.9,199.8 518.4,209.0 518.9,217.7 519.5,209.8 520.0,199.3 520.5,196.0 521.1,204.0 521.6,204.2 522.1,204.8 522.7,210.9 523.2,205.2 523.7,197.5 524.3,194.6 524.8,201.3 525.3,198.4 525.8,190.1 526.4,187.0 526.9,194.3 527.4,205.9 528.0,206.6 528.5,208.1 529.0,212.5 529.6,214.3 530.1,207.9 530.6,196.4 531.2,191.1 531.7,188.9 532.2,191.8 532.8,195.9 533.3,202.4 533.8,201.0 534.4,198.1 534.9,191.8 535.4,190.4 536.0,200.2 536.5,209.5 537.0,209.6 537.6,201.3 538.1,203.2 538.6,206.1 539.2,198.8 539.7,203.1 540.2,209.8 540.8,200.7 541.3,191.7 541.8,193.7 542.4,197.9 542.9,195.6 543.4,189.8 544.0,184.3 544.5,188.8 545.0,196.9 545.5,226.1 546.1,162.6 546.6,156.8" fill="none" stroke="#0072BD" stroke-width="1.2" stroke-linejoin="round"/>
<polyline points="314.5,196.1 315.0,190.1 315.6,186.9 316.1,191.1 316.6,195.4 317.2,197.9 317.7,201.3 318.2,213.8 318.8,212.7 319.3,207.2 319.8,204.3 320.3,207.9 320.9,206.4 321.4,204.8 321.9,207.9 322.5,204.3 323.0,201.2 323.5,206.0 324.1,207.8 324.6,199.4 325.1,193.0 325.7,199.6 326.2,207.4 326.7,219.1 327.3,217.4 327.8,204.9 328.3,198.7 328.9,202.0 329.4,208.3 329.9,216.4 330.5,212.8 331.0,202.1 331.5,201.4 332.1,208.1 332.6,207.2 333.1,191.6 333.7,187.7 334.2,196.9 334.7,203.7 335.3,207.1 335.8,202.0 336.3,202.8 336.9,213.6 337.4,223.9 337.9,223.6 338.5,216.2 339.0,204.9 339.5,198.8 340.0,192.1 340.6,196.1 341.1,200.1 341.6,191.2 342.2,189.7 342.7,203.1 343.2,212.5 343.8,202.1 344.3,194.1 344.8,224.0 345.4,213.2 345.9,223.7 346.4,228.6 347.0,226.7 347.5,213.0 348.0,195.0 348.6,191.3 349.1,201.4 349.6,204.4 350.2,197.5 350.7,194.1 351.2,195.5 351.8,201.6 352.3,202.3 352.8,199.0 353.4,202.8 353.9,204.0 354.4,206.8 355.0,206.5 355.5,206.4 356.0,206.6 356.6,202.3 357.1,195.3 357.6,200.2 358.1,206.0 358.7,201.1 359.2,182.5 359.7,205.0 360.3,216.4 360.8,216.9 361.3,210.4 361.9,208.9 362.4,206.1 362.9,195.1 363.5,185.6 364.0,188.3 364.5,195.0 365.1,200.2 365.6,196.0 366.1,192.5 366.7,194.6 367.2,200.4 367.7,204.5 368.3,200.0 368.8,204.7 369.3,210.2 369.9,222.9 370.4,202.3 370.9,201.9 371.5,198.8 372.0,199.6 372.5,207.1 373.1,211.7 373.6,210.9 374.1,209.2 374.7,202.3 375.2,188.1 375.7,188.2 376.3,204.7 376.8,210.0 377.3,213.5 377.8,213.8 378.4,206.9 378.9,206.6 379.4,210.8 380.0,206.5 380.5,206.3 381.0,209.5 381.6,204.9 382.1,206.4 382.6,213.0 383.2,212.6 383.7,206.2 384.2,198.1 384.8,190.3 385.3,197.2 385.8,202.7 386.4,200.4 386.9,205.2 387.4,208.3 388.0,207.0 388.5,203.1 389.0,195.5 389.6,188.1 390.1,194.7 390.6,196.8 391.2,188.7 391.7,187.4 392.2,201.6 392.8,206.8 393.3,202.0 393.8,207.7 394.4,213.2 394.9,191.0 395.4,204.7 395.9,213.8 396.5,223.9 397.0,209.6 397.5,198.7 398.1,203.4 398.6,209.6 399.1,213.3 399.7,215.1 400.2,203.1 400.7,204.6 401.3,207.5 401.8,196.4 402.3,190.7 402.9,201.2 403.4,207.9 403.9,210.9 404.5,205.9 405.0,229.1 405.5,185.2 406.1,196.6 406.6,205.8 407.1,206.3 407.7,206.7 408.2,210.8 408.7,216.5 409.3,221.1 409.8,217.2 410.3,203.5 410.9,192.6 411.4,196.7 411.9,197.1 412.5,225.0 413.0,206.1 413.5,198.7 414.0,197.6 414.6,208.6 415.1,212.9 415.6,186.6 416.2,204.2 416.7,205.3 417.2,206.4 417.8,209.2 418.3,208.2 418.8,194.8 419.4,182.3 419.9,186.3 420.4,196.7 421.0,200.0 421.5,203.7 422.0,209.6 422.6,210.4 423.1,201.5 423.6,189.4 424.2,193.9 424.7,205.8 425.2,207.3 425.8,206.6 426.3,209.6 426.8,210.5 427.4,210.0 427.9,200.6 428.4,195.4 429.0,199.4 429.5,199.1 430.0,196.9 430.6,195.3 431.1,185.5 431.6,208.5 432.2,207.3 432.7,208.5 433.2,213.9 433.7,204.6 434.3,196.0 434.8,191.0 435.3,191.1 435.9,190.0 436.4,190.3 436.9,193.0 437.5,195.0 438.0,206.7 438.5,218.6 439.1,213.1 439.6,200.8 440.1,230.2 440.7,229.4 441.2,197.4 441.7,192.0 442.3,198.9 442.8,214.2 443.3,214.3 443.9,206.8 444.4,192.1 444.9,183.8 445.5,193.3 446.0,207.0 446.5,203.7 447.1,192.2 447.6,187.0 448.1,202.8 448.7,188.0 449.2,201.1 449.7,208.8 450.3,208.4 450.8,207.7 451.3,203.9 451.8,203.5 452.4,212.8 452.9,222.8 453.4,212.7 454.0,197.9 454.5,187.2 455.0,192.0 455.6,204.7 456.1,219.3 456.6,221.6 457.2,208.7 457.7,199.3 458.2,197.8 458.8,188.2 459.3,189.8 459.8,196.8 460.4,195.5 460.9,202.0 461.4,206.0 462.0,208.4 462.5,203.0 463.0,199.6 463.6,204.4 464.1,205.4 464.6,210.7 465.2,207.4 465.7,197.1 466.2,195.9 466.8,203.2 467.3,207.2 467.8,202.0 468.4,216.9 468.9,228.7 469.4,219.0 469.9,204.3 470.5,193.5 471.0,201.5 471.5,216.3 472.1,217.0 472.6,206.1 473.1,207.0 473.7,217.3 474.2,218.7 474.7,236.0 475.3,200.4 475.8,199.5 476.3,205.5 476.9,218.4 477.4,221.2 477.9,206.8 478.5,202.8 479.0,212.9 479.5,208.4 480.1,196.5 480.6,198.3 481.1,205.7 481.7,217.4 482.2,219.2 482.7,213.2 483.3,212.4 483.8,216.3 484.3,212.6 484.9,213.8 485.4,216.8 485.9,204.5 486.5,201.7 487.0,211.4 487.5,210.7 488.1,207.9 488.6,198.6 489.1,206.0 489.6,205.7 490.2,178.2 490.7,170.3 491.2,180.2 491.8,187.1 492.3,183.1 492.8,187.7 493.4,195.1 493.9,192.6 494.4,192.9 495.0,199.1 495.5,199.0 496.0,196.8 496.6,199.9 497.1,196.1 497.6,201.6 498.2,206.9 498.7,203.6 499.2,190.6 499.8,183.5 500.3,191.1 500.8,188.0 501.4,198.8 501.9,196.7 502.4,194.4 503.0,194.2 503.5,191.8 504.0,186.9 504.6,189.6 505.1,186.8 505.6,192.4 506.2,203.8 506.7,201.3 507.2,196.0 507.7,202.2 508.3,206.8 508.8,203.2 509.3,188.8 509.9,224.0 510.4,185.9 510.9,183.6 511.5,193.0 512.0,204.5 512.5,216.2 513.1,221.0 513.6,215.0 514.1,226.2 514.7,238.5 515.2,242.8 515.7,235.9 516.3,225.2 516.8,216.4 517.3,199.3 517.9,195.3 518.4,200.4 518.9,203.9 519.5,197.2 520.0,193.5 520.5,204.4 521.1,211.3 521.6,199.4 522.1,191.4 522.7,197.2 523.2,208.6 523.7,212.7 524.3,212.4 524.8,210.3 525.3,213.4 525.8,183.5 526.4,192.3 526.9,179.9 527.4,191.5 528.0,213.8 528.5,210.4 529.0,195.2 529.6,194.1 530.1,199.8 530.6,198.4 531.2,200.8 531.7,208.3 532.2,207.8 532.8,200.5 533.3,209.1 533.8,224.5 534.4,221.5 534.9,213.6 535.4,211.2 536.0,180.3 536.5,205.4 537.0,215.3 537.6,213.9 538.1,201.7 538.6,201.1 539.2,198.7 539.7,200.6 540.2,214.5 540.8,222.8 541.3,204.5 541.8,181.6 542.4,175.3 542.9,181.3 543.4,191.0 544.0,196.4 544.5,205.7 545.0,219.0 545.5,218.0 546.1,212.3 546.6,206.2" fill="none" stroke="#D95319" stroke-width="1.2" stroke-linejoin="round"/>
</g>
<rect x="314.6" y="179.4" width="231.80" height="56.90" fill="none" stroke="#727272" stroke-width="1"/>
<line x1="365.07" y1="236.3" x2="365.07" y2="234.0" stroke="#727272" stroke-width="0.8"/>
<line x1="365.07" y1="179.4" x2="365.07" y2="181.70000000000002" stroke="#727272" stroke-width="0.8"/>
<text x="362.37" y="245.00" font-size="5.2" text-anchor="middle">100</text>
<line x1="418.31" y1="236.3" x2="418.31" y2="234.0" stroke="#727272" stroke-width="0.8"/>
<line x1="418.31" y1="179.4" x2="418.31" y2="181.70000000000002" stroke="#727272" stroke-width="0.8"/>
<text x="415.61" y="245.00" font-size="5.2" text-anchor="middle">150</text>
<line x1="471.55" y1="236.3" x2="471.55" y2="234.0" stroke="#727272" stroke-width="0.8"/>
<line x1="471.55" y1="179.4" x2="471.55" y2="181.70000000000002" stroke="#727272" stroke-width="0.8"/>
<text x="468.85" y="245.00" font-size="5.2" text-anchor="middle">200</text>
<line x1="524.79" y1="236.3" x2="524.79" y2="234.0" stroke="#727272" stroke-width="0.8"/>
<line x1="524.79" y1="179.4" x2="524.79" y2="181.70000000000002" stroke="#727272" stroke-width="0.8"/>
<text x="522.09" y="245.00" font-size="5.2" text-anchor="middle">250</text>
<line x1="314.6" y1="227.91" x2="316.90000000000003" y2="227.91" stroke="#727272" stroke-width="0.8"/>
<line x1="546.4" y1="227.91" x2="544.1" y2="227.91" stroke="#727272" stroke-width="0.8"/>
<text x="305.50" y="228.81" font-size="5.2" text-anchor="end">-0.1</text>
<line x1="314.6" y1="203.96" x2="316.90000000000003" y2="203.96" stroke="#727272" stroke-width="0.8"/>
<line x1="546.4" y1="203.96" x2="544.1" y2="203.96" stroke="#727272" stroke-width="0.8"/>
<text x="309.20" y="204.86" font-size="5.2" text-anchor="end">0</text>
<line x1="314.6" y1="180.00" x2="316.90000000000003" y2="180.00" stroke="#727272" stroke-width="0.8"/>
<line x1="546.4" y1="180.00" x2="544.1" y2="180.00" stroke="#727272" stroke-width="0.8"/>
<text x="307.00" y="180.90" font-size="5.2" text-anchor="end">0.1</text>
<text transform="translate(283.40,213.05) rotate(-90)" font-size="5.8" text-anchor="middle">dv<tspan dx="3.3" dy="5.3" font-size="4.3">U</tspan><tspan dx="2.5" dy="-4.5">/(m/s)</tspan></text>
<text x="413.40" y="256.9" font-size="5.55">Time/(s)</text>
<text x="413.60" y="280.5" font-size="11.2" font-weight="bold" text-anchor="middle" style="font-family:'Liberation Serif',serif;fill:#111;stroke:none">(b)</text>
<rect x="462.4" y="4.40" width="83.80" height="11.8" fill="#fff" stroke="#727272" stroke-width="0.9"/>
<line x1="464.4" y1="10.80" x2="485.59999999999997" y2="10.80" stroke="#0072BD" stroke-opacity="0.7" stroke-width="1.7"/>
<text x="487.59999999999997" y="10.10" font-size="4.9">STL</text>
<line x1="506.2" y1="10.80" x2="527.0" y2="10.80" stroke="#D95319" stroke-opacity="0.8" stroke-width="1.7"/>
<text x="529.4" y="10.10" font-size="4.9">VTL</text>
</svg></body></html>
